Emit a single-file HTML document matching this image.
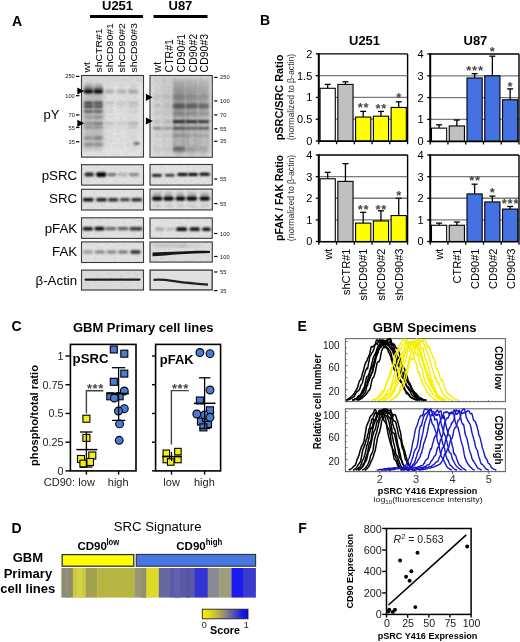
<!DOCTYPE html><html><head><meta charset="utf-8"><title>Figure</title><style>html,body{margin:0;padding:0;background:#fff;width:520px;height:642px;overflow:hidden}svg{display:block}text{font-family:"Liberation Sans",Arial,sans-serif}</style></head><body>
<svg width="520" height="642" viewBox="0 0 520 642">
<defs>
<filter id="b0" x="-50%" y="-200%" width="200%" height="500%"><feGaussianBlur stdDeviation="0.6"/></filter>
<filter id="b1" x="-50%" y="-200%" width="200%" height="500%"><feGaussianBlur stdDeviation="0.9"/></filter>
<filter id="b2" x="-50%" y="-200%" width="200%" height="500%"><feGaussianBlur stdDeviation="1.3"/></filter>
<filter id="b3" x="-50%" y="-200%" width="200%" height="500%"><feGaussianBlur stdDeviation="2.0"/></filter>
<filter id="grain" x="0" y="0" width="100%" height="100%"><feTurbulence type="fractalNoise" baseFrequency="0.3 0.45" numOctaves="2" seed="4"/><feColorMatrix type="matrix" values="0 0 0 0 0  0 0 0 0 0  0 0 0 0 0  1.2 0 0 0 -0.5"/><feGaussianBlur stdDeviation="0.4"/></filter>
<linearGradient id="sc" x1="0" x2="1" y1="0" y2="0"><stop offset="0" stop-color="#f6f200"/><stop offset="0.12" stop-color="#e8e212"/><stop offset="0.3" stop-color="#c6be3a"/><stop offset="0.45" stop-color="#9e9664"/><stop offset="0.56" stop-color="#7a7890"/><stop offset="0.72" stop-color="#4a4abc"/><stop offset="0.86" stop-color="#1c1ce4"/><stop offset="1" stop-color="#0808f2"/></linearGradient>
</defs>
<text x="12" y="25.6" font-size="14" font-weight="bold" text-anchor="start" fill="#000">A</text>
<text x="102" y="10" font-size="13" font-weight="bold" text-anchor="start" fill="#000">U251</text>
<text x="168.5" y="10" font-size="13" font-weight="bold" text-anchor="start" fill="#000">U87</text>
<rect x="90.00" y="15.00" width="53.00" height="3.00" fill="#000" stroke="none" stroke-width="1"/>
<rect x="153.50" y="15.00" width="54.00" height="3.00" fill="#000" stroke="none" stroke-width="1"/>
<text transform="translate(90.2 72.6) rotate(-90) scale(1 0.88)" font-size="10.5" fill="#000">wt</text>
<text transform="translate(101.6 72.6) rotate(-90) scale(1 0.88)" font-size="10.5" fill="#000">shCTR#1</text>
<text transform="translate(113.2 72.6) rotate(-90) scale(1 0.88)" font-size="10.5" fill="#000">shCD90#1</text>
<text transform="translate(125 72.6) rotate(-90) scale(1 0.88)" font-size="10.5" fill="#000">shCD90#2</text>
<text transform="translate(137 72.6) rotate(-90) scale(1 0.88)" font-size="10.5" fill="#000">shCD90#3</text>
<text transform="translate(160.9 72.4) rotate(-90) scale(1 0.97)" font-size="10.5" fill="#000">wt</text>
<text transform="translate(173.2 72.4) rotate(-90) scale(1 0.97)" font-size="10.5" fill="#000">CTR#1</text>
<text transform="translate(184.79999999999998 72.4) rotate(-90) scale(1 0.97)" font-size="10.5" fill="#000">CD90#1</text>
<text transform="translate(196.5 72.4) rotate(-90) scale(1 0.97)" font-size="10.5" fill="#000">CD90#2</text>
<text transform="translate(208.2 72.4) rotate(-90) scale(1 0.97)" font-size="10.5" fill="#000">CD90#3</text>
<clipPath id="c25"><rect x="81" y="75" width="63" height="82.6"/></clipPath>
<rect x="81.00" y="75.00" width="63.00" height="82.60" fill="#e4e4e4" stroke="none" stroke-width="1"/>
<g clip-path="url(#c25)">
<rect x="82.00" y="75.00" width="62.00" height="8.00" rx="4.00" fill="#000" opacity="0.06" filter="url(#b3)"/>
<rect x="83.15" y="85.00" width="10.50" height="66.00" rx="5.25" fill="#000" opacity="0.16" filter="url(#b3)"/>
<rect x="93.05" y="85.00" width="10.50" height="66.00" rx="5.25" fill="#000" opacity="0.17" filter="url(#b3)"/>
<rect x="104.50" y="85.00" width="10.00" height="66.00" rx="5.00" fill="#000" opacity="0.02" filter="url(#b3)"/>
<rect x="116.00" y="85.00" width="11.00" height="66.00" rx="5.50" fill="#000" opacity="0.02" filter="url(#b3)"/>
<rect x="127.50" y="85.00" width="11.00" height="66.00" rx="5.50" fill="#000" opacity="0.04" filter="url(#b3)"/>
<rect x="83.65" y="89.40" width="9.50" height="4.00" rx="2.00" fill="#000" opacity="0.95" filter="url(#b1)"/>
<rect x="93.55" y="89.40" width="9.50" height="4.00" rx="2.00" fill="#000" opacity="0.95" filter="url(#b1)"/>
<rect x="105.00" y="89.40" width="9.00" height="4.00" rx="2.00" fill="#000" opacity="0.20" filter="url(#b1)"/>
<rect x="116.50" y="89.40" width="10.00" height="4.00" rx="2.00" fill="#000" opacity="0.18" filter="url(#b1)"/>
<rect x="128.00" y="89.40" width="10.00" height="4.00" rx="2.00" fill="#000" opacity="0.24" filter="url(#b1)"/>
<rect x="83.65" y="87.00" width="9.50" height="3.00" rx="1.50" fill="#000" opacity="0.35" filter="url(#b2)"/>
<rect x="93.55" y="87.00" width="9.50" height="3.00" rx="1.50" fill="#000" opacity="0.35" filter="url(#b2)"/>
<rect x="83.65" y="101.40" width="9.50" height="3.20" rx="1.60" fill="#000" opacity="0.65" filter="url(#b1)"/>
<rect x="93.55" y="101.40" width="9.50" height="3.20" rx="1.60" fill="#000" opacity="0.60" filter="url(#b1)"/>
<rect x="105.00" y="101.40" width="9.00" height="3.20" rx="1.60" fill="#000" opacity="0.12" filter="url(#b1)"/>
<rect x="116.50" y="101.40" width="10.00" height="3.20" rx="1.60" fill="#000" opacity="0.10" filter="url(#b1)"/>
<rect x="128.00" y="101.40" width="10.00" height="3.20" rx="1.60" fill="#000" opacity="0.14" filter="url(#b1)"/>
<rect x="83.65" y="105.00" width="9.50" height="3.20" rx="1.60" fill="#000" opacity="0.62" filter="url(#b1)"/>
<rect x="93.55" y="105.00" width="9.50" height="3.20" rx="1.60" fill="#000" opacity="0.55" filter="url(#b1)"/>
<rect x="105.00" y="105.00" width="9.00" height="3.20" rx="1.60" fill="#000" opacity="0.04" filter="url(#b1)"/>
<rect x="116.50" y="105.00" width="10.00" height="3.20" rx="1.60" fill="#000" opacity="0.04" filter="url(#b1)"/>
<rect x="128.00" y="105.00" width="10.00" height="3.20" rx="1.60" fill="#000" opacity="0.08" filter="url(#b1)"/>
<rect x="83.65" y="110.10" width="9.50" height="2.80" rx="1.40" fill="#000" opacity="0.48" filter="url(#b1)"/>
<rect x="93.55" y="110.10" width="9.50" height="2.80" rx="1.40" fill="#000" opacity="0.45" filter="url(#b1)"/>
<rect x="105.00" y="110.10" width="9.00" height="2.80" rx="1.40" fill="#000" opacity="0.03" filter="url(#b1)"/>
<rect x="128.00" y="110.10" width="10.00" height="2.80" rx="1.40" fill="#000" opacity="0.04" filter="url(#b1)"/>
<rect x="83.65" y="115.50" width="9.50" height="3.00" rx="1.50" fill="#000" opacity="0.20" filter="url(#b2)"/>
<rect x="93.55" y="115.50" width="9.50" height="3.00" rx="1.50" fill="#000" opacity="0.25" filter="url(#b2)"/>
<rect x="83.65" y="122.60" width="9.50" height="1.80" rx="0.90" fill="#000" opacity="0.35" filter="url(#b1)"/>
<rect x="93.55" y="122.60" width="9.50" height="1.80" rx="0.90" fill="#000" opacity="0.48" filter="url(#b1)"/>
<rect x="105.00" y="122.60" width="9.00" height="1.80" rx="0.90" fill="#000" opacity="0.18" filter="url(#b1)"/>
<rect x="116.50" y="122.60" width="10.00" height="1.80" rx="0.90" fill="#000" opacity="0.12" filter="url(#b1)"/>
<rect x="128.00" y="122.60" width="10.00" height="1.80" rx="0.90" fill="#000" opacity="0.25" filter="url(#b1)"/>
<rect x="83.65" y="126.20" width="9.50" height="2.00" rx="1.00" fill="#000" opacity="0.28" filter="url(#b1)"/>
<rect x="93.55" y="126.20" width="9.50" height="2.00" rx="1.00" fill="#000" opacity="0.30" filter="url(#b1)"/>
<rect x="105.00" y="126.20" width="9.00" height="2.00" rx="1.00" fill="#000" opacity="0.05" filter="url(#b1)"/>
<rect x="116.50" y="126.20" width="10.00" height="2.00" rx="1.00" fill="#000" opacity="0.04" filter="url(#b1)"/>
<rect x="128.00" y="126.20" width="10.00" height="2.00" rx="1.00" fill="#000" opacity="0.10" filter="url(#b1)"/>
<rect x="83.65" y="136.30" width="9.50" height="3.40" rx="1.70" fill="#000" opacity="0.22" filter="url(#b2)"/>
<rect x="93.55" y="136.30" width="9.50" height="3.40" rx="1.70" fill="#000" opacity="0.30" filter="url(#b2)"/>
<rect x="128.00" y="136.30" width="10.00" height="3.40" rx="1.70" fill="#000" opacity="0.02" filter="url(#b2)"/>
<rect x="83.65" y="142.90" width="9.50" height="3.40" rx="1.70" fill="#000" opacity="0.24" filter="url(#b2)"/>
<rect x="93.55" y="142.90" width="9.50" height="3.40" rx="1.70" fill="#000" opacity="0.22" filter="url(#b2)"/>
<rect x="83.65" y="83.50" width="9.50" height="4.00" rx="2.00" fill="#000" opacity="0.18" filter="url(#b2)"/>
<rect x="93.55" y="83.50" width="9.50" height="4.00" rx="2.00" fill="#000" opacity="0.16" filter="url(#b2)"/>
<rect x="105.00" y="83.50" width="9.00" height="4.00" rx="2.00" fill="#000" opacity="0.02" filter="url(#b2)"/>
<rect x="116.50" y="83.50" width="10.00" height="4.00" rx="2.00" fill="#000" opacity="0.02" filter="url(#b2)"/>
<rect x="128.00" y="83.50" width="10.00" height="4.00" rx="2.00" fill="#000" opacity="0.03" filter="url(#b2)"/>
<rect x="133.60" y="142.10" width="6.00" height="3.00" rx="1.50" fill="#000" opacity="0.50" filter="url(#b1)"/>
<rect x="81" y="75" width="63" height="82.6" filter="url(#grain)" opacity="0.1"/>
</g>
<rect x="81.50" y="75.50" width="62.00" height="81.60" fill="none" stroke="#3a3a3a" stroke-width="1.1"/>
<clipPath id="c81"><rect x="149.5" y="75" width="63.30000000000001" height="82.80000000000001"/></clipPath>
<rect x="149.50" y="75.00" width="63.30" height="82.80" fill="#e0e0e0" stroke="none" stroke-width="1"/>
<g clip-path="url(#c81)">
<rect x="150.00" y="75.00" width="62.00" height="8.00" rx="4.00" fill="#000" opacity="0.05" filter="url(#b3)"/>
<rect x="153.00" y="79.00" width="9.00" height="78.00" rx="4.50" fill="#000" opacity="0.05" filter="url(#b3)"/>
<rect x="154.50" y="85.00" width="6.00" height="30.00" rx="3.00" fill="#000" opacity="0.02" filter="url(#b3)"/>
<rect x="163.50" y="79.00" width="8.00" height="78.00" rx="4.00" fill="#000" opacity="0.07" filter="url(#b3)"/>
<rect x="165.00" y="85.00" width="5.00" height="30.00" rx="2.50" fill="#000" opacity="0.04" filter="url(#b3)"/>
<rect x="172.75" y="79.00" width="12.50" height="78.00" rx="6.25" fill="#000" opacity="0.20" filter="url(#b3)"/>
<rect x="174.25" y="85.00" width="9.50" height="30.00" rx="4.75" fill="#000" opacity="0.16" filter="url(#b3)"/>
<rect x="185.50" y="79.00" width="12.00" height="78.00" rx="6.00" fill="#000" opacity="0.17" filter="url(#b3)"/>
<rect x="187.00" y="85.00" width="9.00" height="30.00" rx="4.50" fill="#000" opacity="0.14" filter="url(#b3)"/>
<rect x="197.75" y="79.00" width="11.50" height="78.00" rx="5.75" fill="#000" opacity="0.15" filter="url(#b3)"/>
<rect x="199.25" y="85.00" width="8.50" height="30.00" rx="4.25" fill="#000" opacity="0.12" filter="url(#b3)"/>
<rect x="153.00" y="94.50" width="9.00" height="5.00" rx="2.50" fill="#000" opacity="0.06" filter="url(#b2)"/>
<rect x="163.50" y="94.50" width="8.00" height="5.00" rx="2.50" fill="#000" opacity="0.06" filter="url(#b2)"/>
<rect x="172.75" y="94.50" width="12.50" height="5.00" rx="2.50" fill="#000" opacity="0.15" filter="url(#b2)"/>
<rect x="185.50" y="94.50" width="12.00" height="5.00" rx="2.50" fill="#000" opacity="0.12" filter="url(#b2)"/>
<rect x="197.75" y="94.50" width="11.50" height="5.00" rx="2.50" fill="#000" opacity="0.10" filter="url(#b2)"/>
<rect x="153.00" y="103.50" width="9.00" height="5.00" rx="2.50" fill="#000" opacity="0.05" filter="url(#b2)"/>
<rect x="163.50" y="103.50" width="8.00" height="5.00" rx="2.50" fill="#000" opacity="0.05" filter="url(#b2)"/>
<rect x="172.75" y="103.50" width="12.50" height="5.00" rx="2.50" fill="#000" opacity="0.42" filter="url(#b2)"/>
<rect x="185.50" y="103.50" width="12.00" height="5.00" rx="2.50" fill="#000" opacity="0.40" filter="url(#b2)"/>
<rect x="197.75" y="103.50" width="11.50" height="5.00" rx="2.50" fill="#000" opacity="0.36" filter="url(#b2)"/>
<rect x="153.00" y="112.00" width="9.00" height="4.00" rx="2.00" fill="#000" opacity="0.03" filter="url(#b2)"/>
<rect x="163.50" y="112.00" width="8.00" height="4.00" rx="2.00" fill="#000" opacity="0.03" filter="url(#b2)"/>
<rect x="172.75" y="112.00" width="12.50" height="4.00" rx="2.00" fill="#000" opacity="0.18" filter="url(#b2)"/>
<rect x="185.50" y="112.00" width="12.00" height="4.00" rx="2.00" fill="#000" opacity="0.16" filter="url(#b2)"/>
<rect x="197.75" y="112.00" width="11.50" height="4.00" rx="2.00" fill="#000" opacity="0.12" filter="url(#b2)"/>
<rect x="153.00" y="120.20" width="9.00" height="2.80" rx="1.40" fill="#000" opacity="0.10" filter="url(#b1)"/>
<rect x="163.50" y="120.20" width="8.00" height="2.80" rx="1.40" fill="#000" opacity="0.14" filter="url(#b1)"/>
<rect x="172.75" y="120.20" width="12.50" height="2.80" rx="1.40" fill="#000" opacity="0.85" filter="url(#b1)"/>
<rect x="185.50" y="120.20" width="12.00" height="2.80" rx="1.40" fill="#000" opacity="0.82" filter="url(#b1)"/>
<rect x="197.75" y="120.20" width="11.50" height="2.80" rx="1.40" fill="#000" opacity="0.76" filter="url(#b1)"/>
<rect x="153.00" y="127.00" width="9.00" height="2.60" rx="1.30" fill="#000" opacity="0.36" filter="url(#b1)"/>
<rect x="163.50" y="127.00" width="8.00" height="2.60" rx="1.30" fill="#000" opacity="0.30" filter="url(#b1)"/>
<rect x="172.75" y="127.00" width="12.50" height="2.60" rx="1.30" fill="#000" opacity="0.60" filter="url(#b1)"/>
<rect x="185.50" y="127.00" width="12.00" height="2.60" rx="1.30" fill="#000" opacity="0.50" filter="url(#b1)"/>
<rect x="197.75" y="127.00" width="11.50" height="2.60" rx="1.30" fill="#000" opacity="0.55" filter="url(#b1)"/>
<rect x="153.00" y="134.60" width="9.00" height="2.00" rx="1.00" fill="#000" opacity="0.08" filter="url(#b1)"/>
<rect x="163.50" y="134.60" width="8.00" height="2.00" rx="1.00" fill="#000" opacity="0.08" filter="url(#b1)"/>
<rect x="172.75" y="134.60" width="12.50" height="2.00" rx="1.00" fill="#000" opacity="0.28" filter="url(#b1)"/>
<rect x="185.50" y="134.60" width="12.00" height="2.00" rx="1.00" fill="#000" opacity="0.16" filter="url(#b1)"/>
<rect x="197.75" y="134.60" width="11.50" height="2.00" rx="1.00" fill="#000" opacity="0.16" filter="url(#b1)"/>
<rect x="153.00" y="146.50" width="9.00" height="5.00" rx="2.50" fill="#000" opacity="0.04" filter="url(#b1)"/>
<rect x="163.50" y="146.50" width="8.00" height="5.00" rx="2.50" fill="#000" opacity="0.04" filter="url(#b1)"/>
<rect x="172.75" y="146.50" width="12.50" height="5.00" rx="2.50" fill="#000" opacity="0.40" filter="url(#b1)"/>
<rect x="185.50" y="146.50" width="12.00" height="5.00" rx="2.50" fill="#000" opacity="0.14" filter="url(#b1)"/>
<rect x="197.75" y="146.50" width="11.50" height="5.00" rx="2.50" fill="#000" opacity="0.10" filter="url(#b1)"/>
<rect x="173.40" y="77.00" width="2.20" height="70.00" rx="1.10" fill="#000" opacity="0.12" filter="url(#b1)"/>
<rect x="182.40" y="77.00" width="2.20" height="70.00" rx="1.10" fill="#000" opacity="0.10" filter="url(#b1)"/>
<rect x="186.40" y="77.00" width="2.20" height="70.00" rx="1.10" fill="#000" opacity="0.10" filter="url(#b1)"/>
<rect x="194.90" y="77.00" width="2.20" height="70.00" rx="1.10" fill="#000" opacity="0.09" filter="url(#b1)"/>
<rect x="198.90" y="77.00" width="2.20" height="70.00" rx="1.10" fill="#000" opacity="0.08" filter="url(#b1)"/>
<rect x="206.90" y="77.00" width="2.20" height="70.00" rx="1.10" fill="#000" opacity="0.07" filter="url(#b1)"/>
<rect x="162.40" y="77.00" width="2.20" height="70.00" rx="1.10" fill="#000" opacity="0.06" filter="url(#b1)"/>
<rect x="149.5" y="75" width="63.30000000000001" height="82.80000000000001" filter="url(#grain)" opacity="0.1"/>
</g>
<rect x="150.00" y="75.50" width="62.30" height="81.80" fill="none" stroke="#3a3a3a" stroke-width="1.1"/>
<clipPath id="c140"><rect x="81" y="164.2" width="63" height="21.400000000000006"/></clipPath>
<rect x="81.00" y="164.20" width="63.00" height="21.40" fill="#e2e2e2" stroke="none" stroke-width="1"/>
<g clip-path="url(#c140)">
<rect x="84.45" y="172.60" width="9.50" height="4.00" rx="2.00" fill="#000" opacity="0.84" filter="url(#b1)"/>
<rect x="95.95" y="172.30" width="10.50" height="4.60" rx="2.30" fill="#000" opacity="1.00" filter="url(#b1)"/>
<rect x="107.30" y="172.90" width="9.00" height="3.40" rx="1.70" fill="#000" opacity="0.49" filter="url(#b1)"/>
<rect x="117.50" y="173.00" width="10.00" height="3.20" rx="1.60" fill="#000" opacity="0.22" filter="url(#b1)"/>
<rect x="129.00" y="172.90" width="10.00" height="3.40" rx="1.70" fill="#000" opacity="0.41" filter="url(#b1)"/>
<rect x="81" y="164.2" width="63" height="21.400000000000006" filter="url(#grain)" opacity="0.1"/>
</g>
<rect x="81.50" y="164.70" width="62.00" height="20.40" fill="none" stroke="#3a3a3a" stroke-width="1.1"/>
<clipPath id="c151"><rect x="149.5" y="164" width="63.30000000000001" height="21.599999999999994"/></clipPath>
<rect x="149.50" y="164.00" width="63.30" height="21.60" fill="#e2e2e2" stroke="none" stroke-width="1"/>
<g clip-path="url(#c151)">
<rect x="151.80" y="174.10" width="10.00" height="2.60" rx="1.30" fill="#000" opacity="0.92" filter="url(#b1)"/>
<rect x="165.15" y="174.00" width="9.50" height="2.60" rx="1.30" fill="#000" opacity="0.86" filter="url(#b1)"/>
<rect x="177.25" y="173.10" width="10.50" height="3.00" rx="1.50" fill="#000" opacity="1.00" filter="url(#b1)"/>
<rect x="188.00" y="172.90" width="10.00" height="3.00" rx="1.50" fill="#000" opacity="1.00" filter="url(#b1)"/>
<rect x="199.45" y="172.70" width="10.50" height="3.00" rx="1.50" fill="#000" opacity="1.00" filter="url(#b1)"/>
<rect x="149.5" y="164" width="63.30000000000001" height="21.599999999999994" filter="url(#grain)" opacity="0.1"/>
</g>
<rect x="150.00" y="164.50" width="62.30" height="20.60" fill="none" stroke="#3a3a3a" stroke-width="1.1"/>
<clipPath id="c162"><rect x="81" y="188.8" width="63" height="21.69999999999999"/></clipPath>
<rect x="81.00" y="188.80" width="63.00" height="21.70" fill="#e2e2e2" stroke="none" stroke-width="1"/>
<g clip-path="url(#c162)">
<rect x="82.70" y="197.90" width="11.00" height="3.60" rx="1.80" fill="#000" opacity="0.95" filter="url(#b1)"/>
<rect x="96.00" y="197.90" width="11.00" height="3.60" rx="1.80" fill="#000" opacity="0.89" filter="url(#b1)"/>
<rect x="107.95" y="198.00" width="10.50" height="3.40" rx="1.70" fill="#000" opacity="0.81" filter="url(#b1)"/>
<rect x="120.00" y="198.10" width="10.00" height="3.20" rx="1.60" fill="#000" opacity="0.73" filter="url(#b1)"/>
<rect x="131.20" y="198.00" width="11.00" height="3.40" rx="1.70" fill="#000" opacity="0.81" filter="url(#b1)"/>
<rect x="81" y="188.8" width="63" height="21.69999999999999" filter="url(#grain)" opacity="0.1"/>
</g>
<rect x="81.50" y="189.30" width="62.00" height="20.70" fill="none" stroke="#3a3a3a" stroke-width="1.1"/>
<clipPath id="c173"><rect x="149.5" y="188.6" width="63.30000000000001" height="21.80000000000001"/></clipPath>
<rect x="149.50" y="188.60" width="63.30" height="21.80" fill="#e0e0e0" stroke="none" stroke-width="1"/>
<g clip-path="url(#c173)">
<rect x="151.95" y="196.50" width="10.50" height="4.20" rx="2.10" fill="#000" opacity="0.98" filter="url(#b1)"/>
<rect x="163.35" y="196.50" width="10.50" height="4.20" rx="2.10" fill="#000" opacity="0.98" filter="url(#b1)"/>
<rect x="175.40" y="196.50" width="10.00" height="4.20" rx="2.10" fill="#000" opacity="0.98" filter="url(#b1)"/>
<rect x="186.30" y="196.50" width="11.00" height="4.20" rx="2.10" fill="#000" opacity="0.98" filter="url(#b1)"/>
<rect x="199.45" y="196.50" width="10.50" height="4.20" rx="2.10" fill="#000" opacity="0.98" filter="url(#b1)"/>
<rect x="152.70" y="192.00" width="9.00" height="5.00" rx="2.50" fill="#000" opacity="0.20" filter="url(#b2)"/>
<rect x="164.60" y="192.00" width="8.00" height="5.00" rx="2.50" fill="#000" opacity="0.20" filter="url(#b2)"/>
<rect x="176.40" y="192.00" width="8.00" height="5.00" rx="2.50" fill="#000" opacity="0.20" filter="url(#b2)"/>
<rect x="187.30" y="192.00" width="9.00" height="5.00" rx="2.50" fill="#000" opacity="0.20" filter="url(#b2)"/>
<rect x="200.20" y="192.00" width="9.00" height="5.00" rx="2.50" fill="#000" opacity="0.20" filter="url(#b2)"/>
<rect x="152.70" y="204.00" width="9.00" height="4.00" rx="2.00" fill="#000" opacity="0.08" filter="url(#b2)"/>
<rect x="164.60" y="204.00" width="8.00" height="4.00" rx="2.00" fill="#000" opacity="0.08" filter="url(#b2)"/>
<rect x="176.40" y="204.00" width="8.00" height="4.00" rx="2.00" fill="#000" opacity="0.08" filter="url(#b2)"/>
<rect x="187.30" y="204.00" width="9.00" height="4.00" rx="2.00" fill="#000" opacity="0.08" filter="url(#b2)"/>
<rect x="200.20" y="204.00" width="9.00" height="4.00" rx="2.00" fill="#000" opacity="0.08" filter="url(#b2)"/>
<rect x="149.5" y="188.6" width="63.30000000000001" height="21.80000000000001" filter="url(#grain)" opacity="0.1"/>
</g>
<rect x="150.00" y="189.10" width="62.30" height="20.80" fill="none" stroke="#3a3a3a" stroke-width="1.1"/>
<clipPath id="c194"><rect x="81" y="217.3" width="63" height="21.599999999999994"/></clipPath>
<rect x="81.00" y="217.30" width="63.00" height="21.60" fill="#e2e2e2" stroke="none" stroke-width="1"/>
<g clip-path="url(#c194)">
<rect x="82.55" y="226.90" width="10.50" height="3.60" rx="1.80" fill="#000" opacity="0.95" filter="url(#b1)"/>
<rect x="94.50" y="226.80" width="10.00" height="3.80" rx="1.90" fill="#000" opacity="0.97" filter="url(#b1)"/>
<rect x="105.20" y="227.10" width="11.00" height="3.20" rx="1.60" fill="#000" opacity="0.54" filter="url(#b1)"/>
<rect x="117.50" y="227.10" width="11.00" height="3.20" rx="1.60" fill="#000" opacity="0.59" filter="url(#b1)"/>
<rect x="129.50" y="227.00" width="13.00" height="3.40" rx="1.70" fill="#000" opacity="0.78" filter="url(#b1)"/>
<rect x="81" y="217.3" width="63" height="21.599999999999994" filter="url(#grain)" opacity="0.1"/>
</g>
<rect x="81.50" y="217.80" width="62.00" height="20.60" fill="none" stroke="#3a3a3a" stroke-width="1.1"/>
<clipPath id="c205"><rect x="149.5" y="217.5" width="63.30000000000001" height="21.30000000000001"/></clipPath>
<rect x="149.50" y="217.50" width="63.30" height="21.30" fill="#e2e2e2" stroke="none" stroke-width="1"/>
<g clip-path="url(#c205)">
<rect x="155.20" y="227.60" width="9.00" height="3.20" rx="1.60" fill="#000" opacity="0.27" filter="url(#b1)"/>
<rect x="165.95" y="227.80" width="8.50" height="2.80" rx="1.40" fill="#000" opacity="0.19" filter="url(#b1)"/>
<rect x="176.10" y="227.30" width="11.00" height="3.80" rx="1.90" fill="#000" opacity="0.97" filter="url(#b1)"/>
<rect x="189.45" y="227.30" width="10.50" height="3.80" rx="1.90" fill="#000" opacity="0.92" filter="url(#b1)"/>
<rect x="202.10" y="227.40" width="8.60" height="3.60" rx="1.80" fill="#000" opacity="0.97" filter="url(#b1)"/>
<rect x="149.5" y="217.5" width="63.30000000000001" height="21.30000000000001" filter="url(#grain)" opacity="0.1"/>
</g>
<rect x="150.00" y="218.00" width="62.30" height="20.30" fill="none" stroke="#3a3a3a" stroke-width="1.1"/>
<clipPath id="c216"><rect x="81" y="241.4" width="63" height="21.599999999999994"/></clipPath>
<rect x="81.00" y="241.40" width="63.00" height="21.60" fill="#e2e2e2" stroke="none" stroke-width="1"/>
<g clip-path="url(#c216)">
<rect x="83.00" y="250.40" width="10.00" height="3.20" rx="1.60" fill="#000" opacity="0.32" filter="url(#b1)"/>
<rect x="95.00" y="250.40" width="10.00" height="3.20" rx="1.60" fill="#000" opacity="0.41" filter="url(#b1)"/>
<rect x="106.50" y="250.40" width="10.00" height="3.20" rx="1.60" fill="#000" opacity="0.41" filter="url(#b1)"/>
<rect x="118.00" y="250.40" width="10.00" height="3.20" rx="1.60" fill="#000" opacity="0.49" filter="url(#b1)"/>
<rect x="130.25" y="250.20" width="10.50" height="3.60" rx="1.80" fill="#000" opacity="0.81" filter="url(#b1)"/>
<rect x="81" y="241.4" width="63" height="21.599999999999994" filter="url(#grain)" opacity="0.1"/>
</g>
<rect x="81.50" y="241.90" width="62.00" height="20.60" fill="none" stroke="#3a3a3a" stroke-width="1.1"/>
<clipPath id="c227"><rect x="149.5" y="241.5" width="63.30000000000001" height="21.100000000000023"/></clipPath>
<rect x="149.50" y="241.50" width="63.30" height="21.10" fill="#dedede" stroke="none" stroke-width="1"/>
<g clip-path="url(#c227)">
<rect x="153.00" y="243.50" width="34.00" height="4.00" rx="2.00" fill="#000" opacity="0.10" filter="url(#b2)"/>
<rect x="182.00" y="244.50" width="20.00" height="3.00" rx="1.50" fill="#000" opacity="0.06" filter="url(#b2)"/>
<rect x="149.5" y="241.5" width="63.30000000000001" height="21.100000000000023" filter="url(#grain)" opacity="0.1"/>
</g>
<rect x="150.00" y="242.00" width="62.30" height="20.10" fill="none" stroke="#3a3a3a" stroke-width="1.1"/>
<path d="M152.5,252.6 C160,252.2 170,251.6 180,251.4 S198,250.6 210,250.9 L210,253.1 C200,253.3 190,253.6 180,254.2 S160,256.2 152.5,256.2 Z" fill="#000" fill-opacity="0.9" filter="url(#b0)" clip-path="url(#cfr)"/>
<clipPath id="cfr"><rect x="150" y="242" width="62" height="20"/></clipPath>
<clipPath id="c237"><rect x="81" y="269.6" width="63" height="20.899999999999977"/></clipPath>
<rect x="81.00" y="269.60" width="63.00" height="20.90" fill="#dcdcdc" stroke="none" stroke-width="1"/>
<g clip-path="url(#c237)">
<rect x="84.50" y="278.40" width="56.00" height="2.40" rx="1.20" fill="#000" opacity="0.85" filter="url(#b0)"/>
<rect x="81" y="269.6" width="63" height="20.899999999999977" filter="url(#grain)" opacity="0.1"/>
</g>
<rect x="81.50" y="270.10" width="62.00" height="19.90" fill="none" stroke="#3a3a3a" stroke-width="1.1"/>
<clipPath id="ca2"><rect x="149.5" y="269.5" width="63.3" height="21"/></clipPath>
<rect x="149.50" y="269.50" width="63.30" height="21.00" fill="#e0e0e0" stroke="none" stroke-width="1"/>
<path d="M153.5,279.8 C160,279.3 166,279.8 172,280.8 S192,283.2 208,284.6" stroke="#000" stroke-opacity="0.85" stroke-width="2.2" fill="none" filter="url(#b0)" clip-path="url(#ca2)"/>
<rect x="150.10" y="270.10" width="62.10" height="19.80" fill="none" stroke="#3a3a3a" stroke-width="1.3"/>
<text x="43.5" y="119.2" font-size="13" text-anchor="start" fill="#000">pY</text>
<text x="77.2" y="180" font-size="13.3" text-anchor="end" fill="#000">pSRC</text>
<text x="77.2" y="203.2" font-size="13.3" text-anchor="end" fill="#000">SRC</text>
<text x="77.2" y="233.4" font-size="13.3" text-anchor="end" fill="#000">pFAK</text>
<text x="77.2" y="255.8" font-size="13.3" text-anchor="end" fill="#000">FAK</text>
<text x="77.2" y="284.5" font-size="13.3" text-anchor="end" fill="#000">β-Actin</text>
<line x1="76.00" y1="76.40" x2="79.40" y2="76.40" stroke="#000" stroke-width="1.2"/>
<text x="74.8" y="78.4" font-size="5.7" text-anchor="end" fill="#111">250</text>
<line x1="76.00" y1="95.70" x2="79.40" y2="95.70" stroke="#000" stroke-width="1.2"/>
<text x="74.8" y="97.7" font-size="5.7" text-anchor="end" fill="#111">100</text>
<line x1="76.00" y1="114.90" x2="79.40" y2="114.90" stroke="#000" stroke-width="1.2"/>
<text x="74.8" y="116.9" font-size="5.7" text-anchor="end" fill="#111">70</text>
<line x1="76.00" y1="127.50" x2="79.40" y2="127.50" stroke="#000" stroke-width="1.2"/>
<text x="74.8" y="129.5" font-size="5.7" text-anchor="end" fill="#111">55</text>
<line x1="76.00" y1="141.80" x2="79.40" y2="141.80" stroke="#000" stroke-width="1.2"/>
<text x="74.8" y="143.8" font-size="5.7" text-anchor="end" fill="#111">35</text>
<line x1="214.20" y1="77.40" x2="217.40" y2="77.40" stroke="#000" stroke-width="1.2"/>
<text x="220.1" y="79.4" font-size="5.7" text-anchor="start" fill="#111">250</text>
<line x1="214.20" y1="100.90" x2="217.40" y2="100.90" stroke="#000" stroke-width="1.2"/>
<text x="220.1" y="102.9" font-size="5.7" text-anchor="start" fill="#111">100</text>
<line x1="214.20" y1="114.90" x2="217.40" y2="114.90" stroke="#000" stroke-width="1.2"/>
<text x="220.1" y="116.9" font-size="5.7" text-anchor="start" fill="#111">70</text>
<line x1="214.20" y1="128.80" x2="217.40" y2="128.80" stroke="#000" stroke-width="1.2"/>
<text x="220.1" y="130.8" font-size="5.7" text-anchor="start" fill="#111">55</text>
<line x1="214.20" y1="141.30" x2="217.40" y2="141.30" stroke="#000" stroke-width="1.2"/>
<text x="220.1" y="143.3" font-size="5.7" text-anchor="start" fill="#111">35</text>
<line x1="214.20" y1="179.00" x2="217.40" y2="179.00" stroke="#000" stroke-width="1.2"/>
<text x="220.1" y="181.0" font-size="5.7" text-anchor="start" fill="#111">55</text>
<line x1="214.20" y1="203.60" x2="217.40" y2="203.60" stroke="#000" stroke-width="1.2"/>
<text x="220.1" y="205.6" font-size="5.7" text-anchor="start" fill="#111">55</text>
<line x1="214.20" y1="233.50" x2="217.40" y2="233.50" stroke="#000" stroke-width="1.2"/>
<text x="220.1" y="235.5" font-size="5.7" text-anchor="start" fill="#111">100</text>
<line x1="214.20" y1="256.50" x2="217.40" y2="256.50" stroke="#000" stroke-width="1.2"/>
<text x="220.1" y="258.5" font-size="5.7" text-anchor="start" fill="#111">100</text>
<line x1="214.20" y1="272.00" x2="217.40" y2="272.00" stroke="#000" stroke-width="1.2"/>
<text x="220.1" y="274.0" font-size="5.7" text-anchor="start" fill="#111">55</text>
<line x1="214.20" y1="290.60" x2="217.40" y2="290.60" stroke="#000" stroke-width="1.2"/>
<text x="220.1" y="292.6" font-size="5.7" text-anchor="start" fill="#111">35</text>
<path d="M77.3,87.4 L84.1,91 L77.3,94.6 Z" fill="#000"/>
<path d="M77.3,119.7 L84.1,123.3 L77.3,126.89999999999999 Z" fill="#000"/>
<path d="M145.9,93.7 L152.70000000000002,97.3 L145.9,100.89999999999999 Z" fill="#000"/>
<path d="M145.9,117.4 L152.70000000000002,121 L145.9,124.6 Z" fill="#000"/>
<text x="260" y="24.8" font-size="14" font-weight="bold" text-anchor="start" fill="#000">B</text>
<text x="349" y="45.2" font-size="13" font-weight="bold" text-anchor="start" fill="#000">U251</text>
<text x="463.5" y="45.2" font-size="13" font-weight="bold" text-anchor="start" fill="#000">U87</text>
<line x1="318.80" y1="119.22" x2="407.60" y2="119.22" stroke="#7a7a7a" stroke-width="1.3"/>
<line x1="318.80" y1="97.45" x2="407.60" y2="97.45" stroke="#7a7a7a" stroke-width="1.3"/>
<line x1="318.80" y1="75.68" x2="407.60" y2="75.68" stroke="#7a7a7a" stroke-width="1.3"/>
<rect x="320.08" y="88.30" width="15.20" height="52.70" fill="#ffffff" stroke="#000" stroke-width="1.1"/>
<line x1="327.68" y1="88.30" x2="327.68" y2="84.39" stroke="#000" stroke-width="1.3"/>
<line x1="324.68" y1="84.39" x2="330.68" y2="84.39" stroke="#000" stroke-width="1.3"/>
<rect x="337.84" y="84.39" width="15.20" height="56.61" fill="#c0c0c0" stroke="#000" stroke-width="1.1"/>
<line x1="345.44" y1="84.39" x2="345.44" y2="81.77" stroke="#000" stroke-width="1.3"/>
<line x1="342.44" y1="81.77" x2="348.44" y2="81.77" stroke="#000" stroke-width="1.3"/>
<rect x="355.60" y="117.05" width="15.20" height="23.95" fill="#ffff00" stroke="#000" stroke-width="1.1"/>
<line x1="363.20" y1="117.05" x2="363.20" y2="111.39" stroke="#000" stroke-width="1.3"/>
<line x1="360.20" y1="111.39" x2="366.20" y2="111.39" stroke="#000" stroke-width="1.3"/>
<rect x="373.36" y="116.18" width="15.20" height="24.82" fill="#ffff00" stroke="#000" stroke-width="1.1"/>
<line x1="380.96" y1="116.18" x2="380.96" y2="111.39" stroke="#000" stroke-width="1.3"/>
<line x1="377.96" y1="111.39" x2="383.96" y2="111.39" stroke="#000" stroke-width="1.3"/>
<rect x="391.12" y="107.47" width="15.20" height="33.53" fill="#ffff00" stroke="#000" stroke-width="1.1"/>
<line x1="398.72" y1="107.47" x2="398.72" y2="101.81" stroke="#000" stroke-width="1.3"/>
<line x1="395.72" y1="101.81" x2="401.72" y2="101.81" stroke="#000" stroke-width="1.3"/>
<line x1="318.80" y1="53.90" x2="407.60" y2="53.90" stroke="#000" stroke-width="1.4"/>
<line x1="407.60" y1="53.90" x2="407.60" y2="141.00" stroke="#000" stroke-width="1.4"/>
<line x1="318.80" y1="53.20" x2="318.80" y2="142.00" stroke="#000" stroke-width="2"/>
<line x1="318.80" y1="141.30" x2="407.60" y2="141.30" stroke="#000" stroke-width="1.6"/>
<line x1="318.80" y1="141.00" x2="318.80" y2="144.20" stroke="#000" stroke-width="1.3"/>
<line x1="336.56" y1="141.00" x2="336.56" y2="144.20" stroke="#000" stroke-width="1.3"/>
<line x1="354.32" y1="141.00" x2="354.32" y2="144.20" stroke="#000" stroke-width="1.3"/>
<line x1="372.08" y1="141.00" x2="372.08" y2="144.20" stroke="#000" stroke-width="1.3"/>
<line x1="389.84" y1="141.00" x2="389.84" y2="144.20" stroke="#000" stroke-width="1.3"/>
<line x1="407.60" y1="141.00" x2="407.60" y2="144.20" stroke="#000" stroke-width="1.3"/>
<line x1="315.80" y1="141.00" x2="318.80" y2="141.00" stroke="#000" stroke-width="1.3"/>
<text x="312.3" y="144.9" font-size="11" text-anchor="end" fill="#000">0</text>
<line x1="315.80" y1="119.22" x2="318.80" y2="119.22" stroke="#000" stroke-width="1.3"/>
<text x="312.3" y="123.125" font-size="11" text-anchor="end" fill="#000">0.5</text>
<line x1="315.80" y1="97.45" x2="318.80" y2="97.45" stroke="#000" stroke-width="1.3"/>
<text x="312.3" y="101.35000000000001" font-size="11" text-anchor="end" fill="#000">1</text>
<line x1="315.80" y1="75.68" x2="318.80" y2="75.68" stroke="#000" stroke-width="1.3"/>
<text x="312.3" y="79.57500000000002" font-size="11" text-anchor="end" fill="#000">1.5</text>
<line x1="315.80" y1="53.90" x2="318.80" y2="53.90" stroke="#000" stroke-width="1.3"/>
<text x="312.3" y="57.800000000000004" font-size="11" text-anchor="end" fill="#000">2</text>
<text x="363.6" y="111.8" font-size="13" font-weight="bold" text-anchor="middle" fill="#454545" letter-spacing="0.8">**</text>
<text x="381.36" y="113.39999999999999" font-size="13" font-weight="bold" text-anchor="middle" fill="#454545" letter-spacing="0.8">**</text>
<text x="399.12" y="102.0" font-size="13" font-weight="bold" text-anchor="middle" fill="#454545" letter-spacing="0.8">*</text>
<line x1="430.20" y1="119.40" x2="519.00" y2="119.40" stroke="#7a7a7a" stroke-width="1.3"/>
<line x1="430.20" y1="97.60" x2="519.00" y2="97.60" stroke="#7a7a7a" stroke-width="1.3"/>
<line x1="430.20" y1="75.80" x2="519.00" y2="75.80" stroke="#7a7a7a" stroke-width="1.3"/>
<rect x="431.48" y="128.12" width="15.20" height="13.08" fill="#ffffff" stroke="#000" stroke-width="1.1"/>
<line x1="439.08" y1="128.12" x2="439.08" y2="124.85" stroke="#000" stroke-width="1.3"/>
<line x1="436.08" y1="124.85" x2="442.08" y2="124.85" stroke="#000" stroke-width="1.3"/>
<rect x="449.24" y="125.94" width="15.20" height="15.26" fill="#c0c0c0" stroke="#000" stroke-width="1.1"/>
<line x1="456.84" y1="125.94" x2="456.84" y2="120.05" stroke="#000" stroke-width="1.3"/>
<line x1="453.84" y1="120.05" x2="459.84" y2="120.05" stroke="#000" stroke-width="1.3"/>
<rect x="467.00" y="77.98" width="15.20" height="63.22" fill="#4472e0" stroke="#000" stroke-width="1.1"/>
<line x1="474.60" y1="77.98" x2="474.60" y2="73.62" stroke="#000" stroke-width="1.3"/>
<line x1="471.60" y1="73.62" x2="477.60" y2="73.62" stroke="#000" stroke-width="1.3"/>
<rect x="484.76" y="75.80" width="15.20" height="65.40" fill="#4472e0" stroke="#000" stroke-width="1.1"/>
<line x1="492.36" y1="75.80" x2="492.36" y2="56.18" stroke="#000" stroke-width="1.3"/>
<line x1="489.36" y1="56.18" x2="495.36" y2="56.18" stroke="#000" stroke-width="1.3"/>
<rect x="502.52" y="99.78" width="15.20" height="41.42" fill="#4472e0" stroke="#000" stroke-width="1.1"/>
<line x1="510.12" y1="99.78" x2="510.12" y2="88.88" stroke="#000" stroke-width="1.3"/>
<line x1="507.12" y1="88.88" x2="513.12" y2="88.88" stroke="#000" stroke-width="1.3"/>
<line x1="430.20" y1="54.00" x2="519.00" y2="54.00" stroke="#000" stroke-width="1.4"/>
<line x1="519.00" y1="54.00" x2="519.00" y2="141.20" stroke="#000" stroke-width="1.4"/>
<line x1="430.20" y1="53.30" x2="430.20" y2="142.20" stroke="#000" stroke-width="2"/>
<line x1="430.20" y1="141.50" x2="519.00" y2="141.50" stroke="#000" stroke-width="1.6"/>
<line x1="430.20" y1="141.20" x2="430.20" y2="144.40" stroke="#000" stroke-width="1.3"/>
<line x1="447.96" y1="141.20" x2="447.96" y2="144.40" stroke="#000" stroke-width="1.3"/>
<line x1="465.72" y1="141.20" x2="465.72" y2="144.40" stroke="#000" stroke-width="1.3"/>
<line x1="483.48" y1="141.20" x2="483.48" y2="144.40" stroke="#000" stroke-width="1.3"/>
<line x1="501.24" y1="141.20" x2="501.24" y2="144.40" stroke="#000" stroke-width="1.3"/>
<line x1="519.00" y1="141.20" x2="519.00" y2="144.40" stroke="#000" stroke-width="1.3"/>
<line x1="427.20" y1="141.20" x2="430.20" y2="141.20" stroke="#000" stroke-width="1.3"/>
<text x="423.7" y="145.1" font-size="11" text-anchor="end" fill="#000">0</text>
<line x1="427.20" y1="119.40" x2="430.20" y2="119.40" stroke="#000" stroke-width="1.3"/>
<text x="423.7" y="123.3" font-size="11" text-anchor="end" fill="#000">1</text>
<line x1="427.20" y1="97.60" x2="430.20" y2="97.60" stroke="#000" stroke-width="1.3"/>
<text x="423.7" y="101.5" font-size="11" text-anchor="end" fill="#000">2</text>
<line x1="427.20" y1="75.80" x2="430.20" y2="75.80" stroke="#000" stroke-width="1.3"/>
<text x="423.7" y="79.7" font-size="11" text-anchor="end" fill="#000">3</text>
<line x1="427.20" y1="54.00" x2="430.20" y2="54.00" stroke="#000" stroke-width="1.3"/>
<text x="423.7" y="57.9" font-size="11" text-anchor="end" fill="#000">4</text>
<text x="475.0" y="75.0" font-size="13" font-weight="bold" text-anchor="middle" fill="#454545" letter-spacing="0.8">***</text>
<text x="492.76" y="55.6" font-size="13" font-weight="bold" text-anchor="middle" fill="#454545" letter-spacing="0.8">*</text>
<text x="510.52" y="91.39999999999999" font-size="13" font-weight="bold" text-anchor="middle" fill="#454545" letter-spacing="0.8">*</text>
<line x1="318.80" y1="219.88" x2="407.60" y2="219.88" stroke="#7a7a7a" stroke-width="1.3"/>
<line x1="318.80" y1="198.25" x2="407.60" y2="198.25" stroke="#7a7a7a" stroke-width="1.3"/>
<line x1="318.80" y1="176.62" x2="407.60" y2="176.62" stroke="#7a7a7a" stroke-width="1.3"/>
<rect x="320.08" y="178.79" width="15.20" height="62.71" fill="#ffffff" stroke="#000" stroke-width="1.1"/>
<line x1="327.68" y1="178.79" x2="327.68" y2="172.30" stroke="#000" stroke-width="1.3"/>
<line x1="324.68" y1="172.30" x2="330.68" y2="172.30" stroke="#000" stroke-width="1.3"/>
<rect x="337.84" y="181.38" width="15.20" height="60.12" fill="#c0c0c0" stroke="#000" stroke-width="1.1"/>
<line x1="345.44" y1="181.38" x2="345.44" y2="163.65" stroke="#000" stroke-width="1.3"/>
<line x1="342.44" y1="163.65" x2="348.44" y2="163.65" stroke="#000" stroke-width="1.3"/>
<rect x="355.60" y="223.12" width="15.20" height="18.38" fill="#ffff00" stroke="#000" stroke-width="1.1"/>
<line x1="363.20" y1="223.12" x2="363.20" y2="212.31" stroke="#000" stroke-width="1.3"/>
<line x1="360.20" y1="212.31" x2="366.20" y2="212.31" stroke="#000" stroke-width="1.3"/>
<rect x="373.36" y="220.96" width="15.20" height="20.54" fill="#ffff00" stroke="#000" stroke-width="1.1"/>
<line x1="380.96" y1="220.96" x2="380.96" y2="210.79" stroke="#000" stroke-width="1.3"/>
<line x1="377.96" y1="210.79" x2="383.96" y2="210.79" stroke="#000" stroke-width="1.3"/>
<rect x="391.12" y="215.55" width="15.20" height="25.95" fill="#ffff00" stroke="#000" stroke-width="1.1"/>
<line x1="398.72" y1="215.55" x2="398.72" y2="198.25" stroke="#000" stroke-width="1.3"/>
<line x1="395.72" y1="198.25" x2="401.72" y2="198.25" stroke="#000" stroke-width="1.3"/>
<line x1="318.80" y1="155.00" x2="407.60" y2="155.00" stroke="#000" stroke-width="1.4"/>
<line x1="407.60" y1="155.00" x2="407.60" y2="241.50" stroke="#000" stroke-width="1.4"/>
<line x1="318.80" y1="154.30" x2="318.80" y2="242.50" stroke="#000" stroke-width="2"/>
<line x1="318.80" y1="241.80" x2="407.60" y2="241.80" stroke="#000" stroke-width="1.6"/>
<line x1="318.80" y1="241.50" x2="318.80" y2="244.70" stroke="#000" stroke-width="1.3"/>
<line x1="336.56" y1="241.50" x2="336.56" y2="244.70" stroke="#000" stroke-width="1.3"/>
<line x1="354.32" y1="241.50" x2="354.32" y2="244.70" stroke="#000" stroke-width="1.3"/>
<line x1="372.08" y1="241.50" x2="372.08" y2="244.70" stroke="#000" stroke-width="1.3"/>
<line x1="389.84" y1="241.50" x2="389.84" y2="244.70" stroke="#000" stroke-width="1.3"/>
<line x1="407.60" y1="241.50" x2="407.60" y2="244.70" stroke="#000" stroke-width="1.3"/>
<line x1="315.80" y1="241.50" x2="318.80" y2="241.50" stroke="#000" stroke-width="1.3"/>
<text x="312.3" y="245.4" font-size="11" text-anchor="end" fill="#000">0</text>
<line x1="315.80" y1="219.88" x2="318.80" y2="219.88" stroke="#000" stroke-width="1.3"/>
<text x="312.3" y="223.775" font-size="11" text-anchor="end" fill="#000">1</text>
<line x1="315.80" y1="198.25" x2="318.80" y2="198.25" stroke="#000" stroke-width="1.3"/>
<text x="312.3" y="202.15" font-size="11" text-anchor="end" fill="#000">2</text>
<line x1="315.80" y1="176.62" x2="318.80" y2="176.62" stroke="#000" stroke-width="1.3"/>
<text x="312.3" y="180.525" font-size="11" text-anchor="end" fill="#000">3</text>
<line x1="315.80" y1="155.00" x2="318.80" y2="155.00" stroke="#000" stroke-width="1.3"/>
<text x="312.3" y="158.9" font-size="11" text-anchor="end" fill="#000">4</text>
<text x="363.6" y="213.6" font-size="13" font-weight="bold" text-anchor="middle" fill="#454545" letter-spacing="0.8">**</text>
<text x="381.36" y="213.6" font-size="13" font-weight="bold" text-anchor="middle" fill="#454545" letter-spacing="0.8">**</text>
<text x="399.12" y="199.6" font-size="13" font-weight="bold" text-anchor="middle" fill="#454545" letter-spacing="0.8">*</text>
<line x1="430.20" y1="219.88" x2="519.00" y2="219.88" stroke="#7a7a7a" stroke-width="1.3"/>
<line x1="430.20" y1="198.25" x2="519.00" y2="198.25" stroke="#7a7a7a" stroke-width="1.3"/>
<line x1="430.20" y1="176.62" x2="519.00" y2="176.62" stroke="#7a7a7a" stroke-width="1.3"/>
<rect x="431.48" y="225.28" width="15.20" height="16.22" fill="#ffffff" stroke="#000" stroke-width="1.1"/>
<line x1="439.08" y1="225.28" x2="439.08" y2="223.12" stroke="#000" stroke-width="1.3"/>
<line x1="436.08" y1="223.12" x2="442.08" y2="223.12" stroke="#000" stroke-width="1.3"/>
<rect x="449.24" y="225.28" width="15.20" height="16.22" fill="#c0c0c0" stroke="#000" stroke-width="1.1"/>
<line x1="456.84" y1="225.28" x2="456.84" y2="222.04" stroke="#000" stroke-width="1.3"/>
<line x1="453.84" y1="222.04" x2="459.84" y2="222.04" stroke="#000" stroke-width="1.3"/>
<rect x="467.00" y="193.93" width="15.20" height="47.57" fill="#4472e0" stroke="#000" stroke-width="1.1"/>
<line x1="474.60" y1="193.93" x2="474.60" y2="184.19" stroke="#000" stroke-width="1.3"/>
<line x1="471.60" y1="184.19" x2="477.60" y2="184.19" stroke="#000" stroke-width="1.3"/>
<rect x="484.76" y="201.93" width="15.20" height="39.57" fill="#4472e0" stroke="#000" stroke-width="1.1"/>
<line x1="492.36" y1="201.93" x2="492.36" y2="196.09" stroke="#000" stroke-width="1.3"/>
<line x1="489.36" y1="196.09" x2="495.36" y2="196.09" stroke="#000" stroke-width="1.3"/>
<rect x="502.52" y="209.06" width="15.20" height="32.44" fill="#4472e0" stroke="#000" stroke-width="1.1"/>
<line x1="510.12" y1="209.06" x2="510.12" y2="206.47" stroke="#000" stroke-width="1.3"/>
<line x1="507.12" y1="206.47" x2="513.12" y2="206.47" stroke="#000" stroke-width="1.3"/>
<line x1="430.20" y1="155.00" x2="519.00" y2="155.00" stroke="#000" stroke-width="1.4"/>
<line x1="519.00" y1="155.00" x2="519.00" y2="241.50" stroke="#000" stroke-width="1.4"/>
<line x1="430.20" y1="154.30" x2="430.20" y2="242.50" stroke="#000" stroke-width="2"/>
<line x1="430.20" y1="241.80" x2="519.00" y2="241.80" stroke="#000" stroke-width="1.6"/>
<line x1="430.20" y1="241.50" x2="430.20" y2="244.70" stroke="#000" stroke-width="1.3"/>
<line x1="447.96" y1="241.50" x2="447.96" y2="244.70" stroke="#000" stroke-width="1.3"/>
<line x1="465.72" y1="241.50" x2="465.72" y2="244.70" stroke="#000" stroke-width="1.3"/>
<line x1="483.48" y1="241.50" x2="483.48" y2="244.70" stroke="#000" stroke-width="1.3"/>
<line x1="501.24" y1="241.50" x2="501.24" y2="244.70" stroke="#000" stroke-width="1.3"/>
<line x1="519.00" y1="241.50" x2="519.00" y2="244.70" stroke="#000" stroke-width="1.3"/>
<line x1="427.20" y1="241.50" x2="430.20" y2="241.50" stroke="#000" stroke-width="1.3"/>
<text x="423.7" y="245.4" font-size="11" text-anchor="end" fill="#000">0</text>
<line x1="427.20" y1="219.88" x2="430.20" y2="219.88" stroke="#000" stroke-width="1.3"/>
<text x="423.7" y="223.775" font-size="11" text-anchor="end" fill="#000">1</text>
<line x1="427.20" y1="198.25" x2="430.20" y2="198.25" stroke="#000" stroke-width="1.3"/>
<text x="423.7" y="202.15" font-size="11" text-anchor="end" fill="#000">2</text>
<line x1="427.20" y1="176.62" x2="430.20" y2="176.62" stroke="#000" stroke-width="1.3"/>
<text x="423.7" y="180.525" font-size="11" text-anchor="end" fill="#000">3</text>
<line x1="427.20" y1="155.00" x2="430.20" y2="155.00" stroke="#000" stroke-width="1.3"/>
<text x="423.7" y="158.9" font-size="11" text-anchor="end" fill="#000">4</text>
<text x="475.0" y="185.4" font-size="13" font-weight="bold" text-anchor="middle" fill="#454545" letter-spacing="0.8">**</text>
<text x="492.76" y="197.4" font-size="13" font-weight="bold" text-anchor="middle" fill="#454545" letter-spacing="0.8">*</text>
<text x="510.52" y="208.4" font-size="13" font-weight="bold" text-anchor="middle" fill="#454545" letter-spacing="0.8">***</text>
<text x="282.5" y="97.5" font-size="11" font-weight="bold" text-anchor="middle" fill="#000" transform="rotate(-90 282.5 97.5)" textLength="85.6" lengthAdjust="spacingAndGlyphs">pSRC/SRC Ratio</text>
<text x="293.6" y="97" font-size="8.7" text-anchor="middle" fill="#333" transform="rotate(-90 293.6 97)" textLength="86.4" lengthAdjust="spacingAndGlyphs">(normalized to β-actin)</text>
<text x="282.5" y="198" font-size="11" font-weight="bold" text-anchor="middle" fill="#000" transform="rotate(-90 282.5 198)" textLength="86" lengthAdjust="spacingAndGlyphs">pFAK / FAK Ratio</text>
<text x="293.6" y="198" font-size="8.7" text-anchor="middle" fill="#333" transform="rotate(-90 293.6 198)" textLength="86.4" lengthAdjust="spacingAndGlyphs">(normalized to β-actin)</text>
<text x="332" y="248.6" font-size="11" text-anchor="end" fill="#000" transform="rotate(-90 332 248.6)">wt</text>
<text x="349.6" y="248.6" font-size="11" text-anchor="end" fill="#000" transform="rotate(-90 349.6 248.6)">shCTR#1</text>
<text x="367.4" y="248.6" font-size="11" text-anchor="end" fill="#000" transform="rotate(-90 367.4 248.6)">shCD90#1</text>
<text x="385.2" y="248.6" font-size="11" text-anchor="end" fill="#000" transform="rotate(-90 385.2 248.6)">shCD90#2</text>
<text x="403" y="248.6" font-size="11" text-anchor="end" fill="#000" transform="rotate(-90 403 248.6)">shCD90#3</text>
<text x="443.4" y="248.6" font-size="11" text-anchor="end" fill="#000" transform="rotate(-90 443.4 248.6)">wt</text>
<text x="461.2" y="248.6" font-size="11" text-anchor="end" fill="#000" transform="rotate(-90 461.2 248.6)">CTR#1</text>
<text x="479" y="248.6" font-size="11" text-anchor="end" fill="#000" transform="rotate(-90 479 248.6)">CD90#1</text>
<text x="496.8" y="248.6" font-size="11" text-anchor="end" fill="#000" transform="rotate(-90 496.8 248.6)">CD90#2</text>
<text x="514.6" y="248.6" font-size="11" text-anchor="end" fill="#000" transform="rotate(-90 514.6 248.6)">CD90#3</text>
<text x="11.5" y="331.4" font-size="14" font-weight="bold" text-anchor="start" fill="#000">C</text>
<text x="73" y="332" font-size="13" font-weight="bold" text-anchor="start" fill="#000" textLength="140.6" lengthAdjust="spacingAndGlyphs">GBM Primary cell lines</text>
<rect x="70.40" y="344.40" width="65.60" height="126.50" fill="none" stroke="#000" stroke-width="1.6"/>
<line x1="65.40" y1="470.90" x2="70.40" y2="470.90" stroke="#000" stroke-width="1.4"/>
<text x="63.400000000000006" y="474.7" font-size="10.8" text-anchor="end" fill="#222">0</text>
<line x1="65.40" y1="442.17" x2="70.40" y2="442.17" stroke="#000" stroke-width="1.4"/>
<text x="63.400000000000006" y="445.97499999999997" font-size="10.8" text-anchor="end" fill="#222">0.25</text>
<line x1="65.40" y1="413.45" x2="70.40" y2="413.45" stroke="#000" stroke-width="1.4"/>
<text x="63.400000000000006" y="417.25" font-size="10.8" text-anchor="end" fill="#222">0.5</text>
<line x1="65.40" y1="384.73" x2="70.40" y2="384.73" stroke="#000" stroke-width="1.4"/>
<text x="63.400000000000006" y="388.52500000000003" font-size="10.8" text-anchor="end" fill="#222">0.75</text>
<line x1="65.40" y1="356.00" x2="70.40" y2="356.00" stroke="#000" stroke-width="1.4"/>
<text x="63.400000000000006" y="359.8" font-size="10.8" text-anchor="end" fill="#222">1</text>
<rect x="155.60" y="344.40" width="65.00" height="126.50" fill="none" stroke="#000" stroke-width="1.6"/>
<line x1="152.00" y1="470.90" x2="155.60" y2="470.90" stroke="#000" stroke-width="1.4"/>
<line x1="152.00" y1="442.17" x2="155.60" y2="442.17" stroke="#000" stroke-width="1.4"/>
<line x1="152.00" y1="413.45" x2="155.60" y2="413.45" stroke="#000" stroke-width="1.4"/>
<line x1="152.00" y1="384.73" x2="155.60" y2="384.73" stroke="#000" stroke-width="1.4"/>
<line x1="152.00" y1="356.00" x2="155.60" y2="356.00" stroke="#000" stroke-width="1.4"/>
<line x1="86.40" y1="470.90" x2="86.40" y2="474.60" stroke="#000" stroke-width="1.4"/>
<line x1="118.60" y1="470.90" x2="118.60" y2="474.60" stroke="#000" stroke-width="1.4"/>
<line x1="171.50" y1="470.90" x2="171.50" y2="474.60" stroke="#000" stroke-width="1.4"/>
<line x1="204.60" y1="470.90" x2="204.60" y2="474.60" stroke="#000" stroke-width="1.4"/>
<text x="43.8" y="485.5" font-size="11" text-anchor="start" fill="#222">CD90:</text>
<text x="86.6" y="485.5" font-size="11" text-anchor="middle" fill="#222">low</text>
<text x="171.6" y="485.5" font-size="11" text-anchor="middle" fill="#222">low</text>
<text x="118.2" y="485.5" font-size="11" text-anchor="middle" fill="#222">high</text>
<text x="204.4" y="485.5" font-size="11" text-anchor="middle" fill="#222">high</text>
<text x="37.6" y="415.5" font-size="11" font-weight="bold" text-anchor="middle" fill="#000" transform="rotate(-90 37.6 415.5)" textLength="100.9" lengthAdjust="spacingAndGlyphs">phospho/total ratio</text>
<text x="72.6" y="362.6" font-size="13.5" font-weight="bold" text-anchor="start" fill="#000" textLength="36" lengthAdjust="spacingAndGlyphs">pSRC</text>
<text x="159.8" y="363.5" font-size="13.5" font-weight="bold" text-anchor="start" fill="#000" textLength="33.8" lengthAdjust="spacingAndGlyphs">pFAK</text>
<path d="M86.4,413.4 V390.7 H103.3" fill="none" stroke="#444" stroke-width="1.4"/>
<text x="95.4" y="393.1" font-size="13" font-weight="bold" text-anchor="middle" fill="#454545" letter-spacing="0.6">***</text>
<path d="M171.4,444.6 V390.6 H188.8" fill="none" stroke="#444" stroke-width="1.4"/>
<text x="180.4" y="392.8" font-size="13" font-weight="bold" text-anchor="middle" fill="#454545" letter-spacing="0.6">***</text>
<rect x="82.90" y="415.20" width="7.00" height="7.00" fill="#f4ee1c" stroke="#000" stroke-width="1.1"/>
<rect x="82.90" y="434.40" width="7.00" height="7.00" fill="#f4ee1c" stroke="#000" stroke-width="1.1"/>
<rect x="88.80" y="452.00" width="7.00" height="7.00" fill="#f4ee1c" stroke="#000" stroke-width="1.1"/>
<rect x="77.50" y="455.50" width="7.00" height="7.00" fill="#f4ee1c" stroke="#000" stroke-width="1.1"/>
<rect x="86.50" y="458.50" width="7.00" height="7.00" fill="#f4ee1c" stroke="#000" stroke-width="1.1"/>
<rect x="79.90" y="460.20" width="7.00" height="7.00" fill="#f4ee1c" stroke="#000" stroke-width="1.1"/>
<line x1="86.40" y1="432.00" x2="86.40" y2="467.00" stroke="#000" stroke-width="1.3"/>
<line x1="80.00" y1="432.00" x2="92.50" y2="432.00" stroke="#000" stroke-width="1.3"/>
<line x1="76.40" y1="449.60" x2="97.40" y2="449.60" stroke="#000" stroke-width="1.5"/>
<line x1="80.00" y1="467.00" x2="92.50" y2="467.00" stroke="#000" stroke-width="1.3"/>
<rect x="110.30" y="346.00" width="7.00" height="7.00" fill="#4a7cd0" stroke="#000" stroke-width="1.1"/>
<rect x="120.80" y="350.20" width="7.00" height="7.00" fill="#4a7cd0" stroke="#000" stroke-width="1.1"/>
<rect x="120.80" y="370.10" width="7.00" height="7.00" fill="#4a7cd0" stroke="#000" stroke-width="1.1"/>
<rect x="110.30" y="378.30" width="7.00" height="7.00" fill="#4a7cd0" stroke="#000" stroke-width="1.1"/>
<rect x="106.80" y="392.80" width="7.00" height="7.00" fill="#4a7cd0" stroke="#000" stroke-width="1.1"/>
<rect x="116.10" y="392.80" width="7.00" height="7.00" fill="#4a7cd0" stroke="#000" stroke-width="1.1"/>
<circle cx="124.30" cy="391.00" r="3.9" fill="#4a7cd0" stroke="#000" stroke-width="1.1"/>
<circle cx="114.30" cy="398.00" r="3.9" fill="#4a7cd0" stroke="#000" stroke-width="1.1"/>
<circle cx="124.30" cy="408.70" r="3.9" fill="#4a7cd0" stroke="#000" stroke-width="1.1"/>
<circle cx="118.50" cy="411.00" r="3.9" fill="#4a7cd0" stroke="#000" stroke-width="1.1"/>
<circle cx="119.60" cy="423.90" r="3.9" fill="#4a7cd0" stroke="#000" stroke-width="1.1"/>
<circle cx="119.20" cy="440.30" r="3.9" fill="#4a7cd0" stroke="#000" stroke-width="1.1"/>
<line x1="118.60" y1="367.70" x2="118.60" y2="420.40" stroke="#000" stroke-width="1.3"/>
<line x1="112.00" y1="367.70" x2="125.20" y2="367.70" stroke="#000" stroke-width="1.3"/>
<line x1="106.80" y1="393.50" x2="129.00" y2="393.50" stroke="#000" stroke-width="1.5"/>
<line x1="112.00" y1="420.40" x2="125.20" y2="420.40" stroke="#000" stroke-width="1.3"/>
<rect x="163.05" y="450.05" width="6.50" height="6.50" fill="#f4ee1c" stroke="#000" stroke-width="1.1"/>
<rect x="174.65" y="448.35" width="6.50" height="6.50" fill="#f4ee1c" stroke="#000" stroke-width="1.1"/>
<rect x="163.05" y="456.25" width="6.50" height="6.50" fill="#f4ee1c" stroke="#000" stroke-width="1.1"/>
<rect x="174.65" y="456.25" width="6.50" height="6.50" fill="#f4ee1c" stroke="#000" stroke-width="1.1"/>
<rect x="167.45" y="458.75" width="6.50" height="6.50" fill="#f4ee1c" stroke="#000" stroke-width="1.1"/>
<line x1="162.00" y1="456.60" x2="181.60" y2="456.60" stroke="#000" stroke-width="1.5"/>
<line x1="171.50" y1="452.00" x2="171.50" y2="461.00" stroke="#000" stroke-width="1.2"/>
<rect x="196.40" y="397.00" width="7.00" height="7.00" fill="#4a7cd0" stroke="#000" stroke-width="1.1"/>
<rect x="206.50" y="406.80" width="7.00" height="7.00" fill="#4a7cd0" stroke="#000" stroke-width="1.1"/>
<rect x="197.50" y="418.00" width="7.00" height="7.00" fill="#4a7cd0" stroke="#000" stroke-width="1.1"/>
<rect x="204.50" y="420.50" width="7.00" height="7.00" fill="#4a7cd0" stroke="#000" stroke-width="1.1"/>
<rect x="199.90" y="423.90" width="7.00" height="7.00" fill="#4a7cd0" stroke="#000" stroke-width="1.1"/>
<rect x="202.50" y="414.50" width="7.00" height="7.00" fill="#4a7cd0" stroke="#000" stroke-width="1.1"/>
<circle cx="199.90" cy="352.50" r="3.9" fill="#4a7cd0" stroke="#000" stroke-width="1.1"/>
<circle cx="210.00" cy="353.70" r="3.9" fill="#4a7cd0" stroke="#000" stroke-width="1.1"/>
<circle cx="210.00" cy="390.00" r="3.9" fill="#4a7cd0" stroke="#000" stroke-width="1.1"/>
<circle cx="196.80" cy="414.00" r="3.9" fill="#4a7cd0" stroke="#000" stroke-width="1.1"/>
<circle cx="204.60" cy="415.00" r="3.9" fill="#4a7cd0" stroke="#000" stroke-width="1.1"/>
<circle cx="210.00" cy="417.30" r="3.9" fill="#4a7cd0" stroke="#000" stroke-width="1.1"/>
<line x1="204.60" y1="377.80" x2="204.60" y2="428.00" stroke="#000" stroke-width="1.3"/>
<line x1="199.00" y1="377.80" x2="210.40" y2="377.80" stroke="#000" stroke-width="1.3"/>
<line x1="194.00" y1="403.30" x2="215.50" y2="403.30" stroke="#000" stroke-width="1.5"/>
<line x1="199.00" y1="428.50" x2="210.40" y2="428.50" stroke="#000" stroke-width="1.3"/>
<text x="11.6" y="533" font-size="14" font-weight="bold" text-anchor="start" fill="#000">D</text>
<text x="113.8" y="531.4" font-size="13" text-anchor="start" fill="#000" textLength="87.7" lengthAdjust="spacingAndGlyphs">SRC Signature</text>
<text x="77.4" y="550" font-size="11.5" font-weight="bold" text-anchor="start" fill="#000">CD90</text>
<text x="106.4" y="545.4" font-size="8.2" font-weight="bold" text-anchor="start" fill="#000" textLength="12.8" lengthAdjust="spacingAndGlyphs">low</text>
<text x="176.3" y="550" font-size="11.5" font-weight="bold" text-anchor="start" fill="#000">CD90</text>
<text x="205.8" y="545.4" font-size="8.2" font-weight="bold" text-anchor="start" fill="#000" textLength="16.6" lengthAdjust="spacingAndGlyphs">high</text>
<text x="27.9" y="562.4" font-size="13" font-weight="bold" text-anchor="middle" fill="#000">GBM</text>
<text x="27.9" y="577.8" font-size="13" font-weight="bold" text-anchor="middle" fill="#000">Primary</text>
<text x="27.7" y="593.2" font-size="13" font-weight="bold" text-anchor="middle" fill="#000">cell lines</text>
<rect x="62.20" y="554.60" width="71.60" height="11.60" fill="#ffff00" stroke="#333" stroke-width="1.3"/>
<rect x="136.30" y="554.40" width="119.30" height="11.80" fill="#4777e2" stroke="#333" stroke-width="1.1"/>
<rect x="61.40" y="568.00" width="11.80" height="29.60" fill="#8e8c6c" stroke="none" stroke-width="1"/>
<rect x="72.90" y="568.00" width="13.00" height="29.60" fill="#cccb3c" stroke="none" stroke-width="1"/>
<rect x="85.60" y="568.00" width="12.00" height="29.60" fill="#a3a24e" stroke="none" stroke-width="1"/>
<rect x="97.30" y="568.00" width="37.60" height="29.60" fill="#b8b642" stroke="none" stroke-width="1"/>
<rect x="134.60" y="568.00" width="11.90" height="29.60" fill="#9a9872" stroke="none" stroke-width="1"/>
<rect x="146.20" y="568.00" width="12.90" height="29.60" fill="#dedb28" stroke="none" stroke-width="1"/>
<rect x="158.80" y="568.00" width="11.50" height="29.60" fill="#6868a0" stroke="none" stroke-width="1"/>
<rect x="170.00" y="568.00" width="25.10" height="29.60" fill="#5a5aa8" stroke="none" stroke-width="1"/>
<rect x="194.80" y="568.00" width="13.20" height="29.60" fill="#3434d4" stroke="none" stroke-width="1"/>
<rect x="207.70" y="568.00" width="11.80" height="29.60" fill="#8a8a92" stroke="none" stroke-width="1"/>
<rect x="219.20" y="568.00" width="12.60" height="29.60" fill="#9e9d7a" stroke="none" stroke-width="1"/>
<rect x="231.50" y="568.00" width="11.80" height="29.60" fill="#1c1cf0" stroke="none" stroke-width="1"/>
<rect x="243.00" y="568.00" width="12.90" height="29.60" fill="#3b3bcc" stroke="none" stroke-width="1"/>
<rect x="65.50" y="568.00" width="3.00" height="29.60" fill="#948c82" stroke="none" stroke-width="1"/>
<rect x="77.00" y="568.00" width="5.00" height="29.60" fill="#d4d34c" stroke="none" stroke-width="1"/>
<rect x="140.50" y="568.00" width="5.70" height="29.60" fill="#939070" stroke="none" stroke-width="1"/>
<rect x="174.00" y="568.00" width="6.00" height="29.60" fill="#6262ac" stroke="none" stroke-width="1"/>
<rect x="186.00" y="568.00" width="4.00" height="29.60" fill="#5555a6" stroke="none" stroke-width="1"/>
<rect x="202.30" y="609.20" width="45.70" height="9.60" fill="url(#sc)" stroke="#222" stroke-width="0.9"/>
<text x="201.8" y="627.6" font-size="9" text-anchor="start" fill="#222">0</text>
<text x="243.8" y="627.6" font-size="9" text-anchor="start" fill="#222">1</text>
<text x="210" y="634.2" font-size="11.5" font-weight="bold" text-anchor="start" fill="#000" textLength="30" lengthAdjust="spacingAndGlyphs">Score</text>
<text x="297.5" y="330.8" font-size="14" font-weight="bold" text-anchor="start" fill="#000">E</text>
<text x="372.8" y="331.6" font-size="13" font-weight="bold" text-anchor="start" fill="#000" textLength="103.8" lengthAdjust="spacingAndGlyphs">GBM Specimens</text>
<text x="321" y="401.8" font-size="10" font-weight="bold" text-anchor="middle" fill="#000" transform="rotate(-90 321 401.8)" textLength="95" lengthAdjust="spacingAndGlyphs">Relative cell number</text>
<rect x="345.40" y="338.60" width="160.00" height="63.00" fill="none" stroke="#6a6a6a" stroke-width="1.1"/>
<text x="339.6" y="348.70000000000005" font-size="10.2" text-anchor="end" fill="#111" textLength="16.6" lengthAdjust="spacingAndGlyphs">100</text>
<text x="339.6" y="371.3" font-size="10.2" text-anchor="end" fill="#111" textLength="11" lengthAdjust="spacingAndGlyphs">60</text>
<text x="339.6" y="394.70000000000005" font-size="10.2" text-anchor="end" fill="#111" textLength="11" lengthAdjust="spacingAndGlyphs">20</text>
<line x1="345.40" y1="401.60" x2="347.60" y2="401.60" stroke="#555" stroke-width="0.8"/>
<line x1="345.40" y1="395.60" x2="346.80" y2="395.60" stroke="#555" stroke-width="0.8"/>
<line x1="345.40" y1="389.60" x2="347.60" y2="389.60" stroke="#555" stroke-width="0.8"/>
<line x1="345.40" y1="383.60" x2="346.80" y2="383.60" stroke="#555" stroke-width="0.8"/>
<line x1="345.40" y1="377.60" x2="347.60" y2="377.60" stroke="#555" stroke-width="0.8"/>
<line x1="345.40" y1="371.60" x2="346.80" y2="371.60" stroke="#555" stroke-width="0.8"/>
<line x1="345.40" y1="365.60" x2="347.60" y2="365.60" stroke="#555" stroke-width="0.8"/>
<line x1="345.40" y1="359.60" x2="346.80" y2="359.60" stroke="#555" stroke-width="0.8"/>
<line x1="345.40" y1="353.60" x2="347.60" y2="353.60" stroke="#555" stroke-width="0.8"/>
<line x1="345.40" y1="347.60" x2="346.80" y2="347.60" stroke="#555" stroke-width="0.8"/>
<line x1="345.40" y1="341.60" x2="347.60" y2="341.60" stroke="#555" stroke-width="0.8"/>
<line x1="346.44" y1="401.60" x2="346.44" y2="400.70" stroke="#555" stroke-width="0.7"/>
<line x1="350.08" y1="401.60" x2="350.08" y2="400.70" stroke="#555" stroke-width="0.7"/>
<line x1="353.72" y1="401.60" x2="353.72" y2="400.70" stroke="#555" stroke-width="0.7"/>
<line x1="357.36" y1="401.60" x2="357.36" y2="400.70" stroke="#555" stroke-width="0.7"/>
<line x1="361.00" y1="401.60" x2="361.00" y2="400.70" stroke="#555" stroke-width="0.7"/>
<line x1="364.64" y1="401.60" x2="364.64" y2="400.70" stroke="#555" stroke-width="0.7"/>
<line x1="368.28" y1="401.60" x2="368.28" y2="400.70" stroke="#555" stroke-width="0.7"/>
<line x1="371.92" y1="401.60" x2="371.92" y2="400.70" stroke="#555" stroke-width="0.7"/>
<line x1="375.56" y1="401.60" x2="375.56" y2="400.70" stroke="#555" stroke-width="0.7"/>
<line x1="379.20" y1="401.60" x2="379.20" y2="400.00" stroke="#555" stroke-width="0.7"/>
<line x1="382.84" y1="401.60" x2="382.84" y2="400.70" stroke="#555" stroke-width="0.7"/>
<line x1="386.48" y1="401.60" x2="386.48" y2="400.70" stroke="#555" stroke-width="0.7"/>
<line x1="390.12" y1="401.60" x2="390.12" y2="400.70" stroke="#555" stroke-width="0.7"/>
<line x1="393.76" y1="401.60" x2="393.76" y2="400.70" stroke="#555" stroke-width="0.7"/>
<line x1="397.40" y1="401.60" x2="397.40" y2="400.70" stroke="#555" stroke-width="0.7"/>
<line x1="401.04" y1="401.60" x2="401.04" y2="400.70" stroke="#555" stroke-width="0.7"/>
<line x1="404.68" y1="401.60" x2="404.68" y2="400.70" stroke="#555" stroke-width="0.7"/>
<line x1="408.32" y1="401.60" x2="408.32" y2="400.70" stroke="#555" stroke-width="0.7"/>
<line x1="411.96" y1="401.60" x2="411.96" y2="400.70" stroke="#555" stroke-width="0.7"/>
<line x1="415.60" y1="401.60" x2="415.60" y2="400.00" stroke="#555" stroke-width="0.7"/>
<line x1="419.24" y1="401.60" x2="419.24" y2="400.70" stroke="#555" stroke-width="0.7"/>
<line x1="422.88" y1="401.60" x2="422.88" y2="400.70" stroke="#555" stroke-width="0.7"/>
<line x1="426.52" y1="401.60" x2="426.52" y2="400.70" stroke="#555" stroke-width="0.7"/>
<line x1="430.16" y1="401.60" x2="430.16" y2="400.70" stroke="#555" stroke-width="0.7"/>
<line x1="433.80" y1="401.60" x2="433.80" y2="400.70" stroke="#555" stroke-width="0.7"/>
<line x1="437.44" y1="401.60" x2="437.44" y2="400.70" stroke="#555" stroke-width="0.7"/>
<line x1="441.08" y1="401.60" x2="441.08" y2="400.70" stroke="#555" stroke-width="0.7"/>
<line x1="444.72" y1="401.60" x2="444.72" y2="400.70" stroke="#555" stroke-width="0.7"/>
<line x1="448.36" y1="401.60" x2="448.36" y2="400.70" stroke="#555" stroke-width="0.7"/>
<line x1="452.00" y1="401.60" x2="452.00" y2="400.00" stroke="#555" stroke-width="0.7"/>
<line x1="455.64" y1="401.60" x2="455.64" y2="400.70" stroke="#555" stroke-width="0.7"/>
<line x1="459.28" y1="401.60" x2="459.28" y2="400.70" stroke="#555" stroke-width="0.7"/>
<line x1="462.92" y1="401.60" x2="462.92" y2="400.70" stroke="#555" stroke-width="0.7"/>
<line x1="466.56" y1="401.60" x2="466.56" y2="400.70" stroke="#555" stroke-width="0.7"/>
<line x1="470.20" y1="401.60" x2="470.20" y2="400.70" stroke="#555" stroke-width="0.7"/>
<line x1="473.84" y1="401.60" x2="473.84" y2="400.70" stroke="#555" stroke-width="0.7"/>
<line x1="477.48" y1="401.60" x2="477.48" y2="400.70" stroke="#555" stroke-width="0.7"/>
<line x1="481.12" y1="401.60" x2="481.12" y2="400.70" stroke="#555" stroke-width="0.7"/>
<line x1="484.76" y1="401.60" x2="484.76" y2="400.70" stroke="#555" stroke-width="0.7"/>
<line x1="488.40" y1="401.60" x2="488.40" y2="400.00" stroke="#555" stroke-width="0.7"/>
<line x1="492.04" y1="401.60" x2="492.04" y2="400.70" stroke="#555" stroke-width="0.7"/>
<line x1="495.68" y1="401.60" x2="495.68" y2="400.70" stroke="#555" stroke-width="0.7"/>
<line x1="499.32" y1="401.60" x2="499.32" y2="400.70" stroke="#555" stroke-width="0.7"/>
<line x1="502.96" y1="401.60" x2="502.96" y2="400.70" stroke="#555" stroke-width="0.7"/>
<clipPath id="ce1"><rect x="345.4" y="337" width="160" height="64.6"/></clipPath><g clip-path="url(#ce1)">
<polyline points="345.9,399.9 346.6,399.8 347.3,399.5 348.0,399.1 348.7,398.7 349.4,398.2 350.1,397.7 350.8,397.1 351.5,396.5 352.2,395.9 352.9,395.0 353.6,394.4 354.3,393.5 355.0,391.9 355.7,390.9 356.4,389.2 357.1,388.5 357.8,386.4 358.5,383.9 359.2,381.6 359.9,380.1 360.6,379.9 361.3,378.1 362.0,375.1 362.7,372.5 363.4,370.9 364.1,367.9 364.8,365.0 365.5,363.4 366.2,361.6 366.9,361.1 367.6,358.3 368.3,357.5 369.0,355.6 369.7,354.0 370.4,350.4 371.1,347.2 371.8,346.7 372.5,346.9 373.2,346.2 373.9,345.8 374.6,344.7 375.3,344.7 376.0,341.3 376.7,339.9 377.4,340.0 378.1,341.4 378.8,342.3 379.5,340.8 380.2,341.0 380.9,341.4 381.6,342.9 382.3,343.2 383.0,343.7 383.7,345.8 384.4,346.6 385.1,347.8 385.8,346.8 386.5,347.4 387.2,348.3 387.9,350.1 388.6,352.5 389.3,353.0 390.0,355.2 390.7,356.0 391.4,359.8 392.1,361.2 392.8,365.0 393.5,367.4 394.2,369.7 394.9,370.8 395.6,370.6 396.3,370.1 397.0,371.8 397.7,374.2 398.4,377.7 399.1,378.1 399.8,379.3 400.5,381.2 401.2,382.5 401.9,383.4 402.6,385.3 403.3,387.1 404.0,388.6 404.7,389.7 405.4,390.5 406.1,391.9 406.8,392.0 407.5,392.9 408.2,393.4 408.9,394.6 409.6,395.4 410.3,396.5 411.0,397.1 411.7,397.4 412.4,397.9 413.1,398.0 413.8,398.6 414.5,398.6 415.2,399.1 415.9,399.1 416.6,399.4 417.3,399.7 418.0,399.8 418.7,399.9 419.4,400.0 420.1,400.2" fill="none" stroke="#000" stroke-width="1.5" stroke-linejoin="round"/>
<polyline points="346.6,400.2 347.3,400.0 348.0,399.7 348.7,399.5 349.4,399.3 350.1,399.0 350.8,398.8 351.5,398.1 352.2,397.9 352.9,397.3 353.6,396.9 354.3,396.2 355.0,395.0 355.7,393.7 356.4,392.4 357.1,391.6 357.8,390.9 358.5,390.7 359.2,389.8 359.9,388.7 360.6,385.5 361.3,384.9 362.0,383.5 362.7,382.0 363.4,378.1 364.1,375.6 364.8,373.4 365.5,371.0 366.2,369.7 366.9,367.9 367.6,368.7 368.3,364.7 369.0,361.3 369.7,356.8 370.4,355.5 371.1,354.3 371.8,353.0 372.5,352.1 373.2,350.6 373.9,349.2 374.6,346.2 375.3,344.2 376.0,343.2 376.7,344.1 377.4,344.3 378.1,342.2 378.8,340.7 379.5,339.7 380.2,341.3 380.9,342.6 381.6,342.8 382.3,341.8 383.0,341.5 383.7,342.0 384.4,343.5 385.1,343.8 385.8,345.8 386.5,346.8 387.2,348.8 387.9,347.8 388.6,349.7 389.3,349.9 390.0,351.0 390.7,352.3 391.4,355.1 392.1,358.2 392.8,359.8 393.5,362.2 394.2,363.9 394.9,364.2 395.6,365.6 396.3,368.2 397.0,372.9 397.7,374.4 398.4,377.3 399.1,379.2 399.8,380.2 400.5,381.6 401.2,381.5 401.9,383.0 402.6,383.8 403.3,385.8 404.0,387.0 404.7,388.7 405.4,390.5 406.1,393.0 406.8,393.8 407.5,394.0 408.2,394.2 408.9,395.2 409.6,396.5 410.3,397.3 411.0,397.6 411.7,398.0 412.4,398.3 413.1,398.7 413.8,399.0 414.5,399.4 415.2,399.6 415.9,399.8 416.6,400.0 417.3,400.1 418.0,400.2" fill="none" stroke="#000" stroke-width="1.5" stroke-linejoin="round"/>
<polyline points="352.2,400.1 352.9,400.0 353.6,399.6 354.3,399.4 355.0,399.0 355.7,398.9 356.4,398.4 357.1,397.7 357.8,396.7 358.5,395.8 359.2,395.5 359.9,395.4 360.6,394.5 361.3,393.2 362.0,391.3 362.7,389.8 363.4,389.0 364.1,387.5 364.8,385.8 365.5,382.1 366.2,378.3 366.9,376.4 367.6,376.1 368.3,375.6 369.0,373.7 369.7,371.4 370.4,369.0 371.1,367.0 371.8,363.4 372.5,361.1 373.2,357.7 373.9,356.2 374.6,354.7 375.3,353.7 376.0,351.9 376.7,350.1 377.4,347.5 378.1,345.9 378.8,345.4 379.5,344.6 380.2,345.0 380.9,343.8 381.6,343.7 382.3,344.1 383.0,343.4 383.7,343.1 384.4,341.5 385.1,342.1 385.8,342.9 386.5,344.1 387.2,344.5 387.9,345.3 388.6,345.1 389.3,346.8 390.0,347.1 390.7,348.1 391.4,348.3 392.1,350.2 392.8,351.2 393.5,354.0 394.2,354.7 394.9,356.6 395.6,356.5 396.3,358.2 397.0,360.8 397.7,363.0 398.4,364.5 399.1,365.3 399.8,366.7 400.5,370.4 401.2,372.1 401.9,373.0 402.6,372.4 403.3,374.4 404.0,378.4 404.7,380.1 405.4,381.9 406.1,384.2 406.8,385.9 407.5,388.0 408.2,388.3 408.9,390.0 409.6,389.5 410.3,390.1 411.0,390.7 411.7,391.5 412.4,391.7 413.1,392.8 413.8,394.2 414.5,395.7 415.2,396.4 415.9,396.8 416.6,397.0 417.3,397.3 418.0,397.7 418.7,398.2 419.4,398.6 420.1,398.9 420.8,399.1 421.5,399.3 422.2,399.5 422.9,399.8 423.6,400.0 424.3,400.2" fill="none" stroke="#000" stroke-width="1.5" stroke-linejoin="round"/>
<polyline points="356.4,400.2 357.1,399.9 357.8,399.6 358.5,399.3 359.2,398.9 359.9,398.6 360.6,397.8 361.3,397.2 362.0,396.3 362.7,395.5 363.4,394.7 364.1,393.7 364.8,393.2 365.5,391.8 366.2,389.2 366.9,385.3 367.6,382.3 368.3,380.8 369.0,380.7 369.7,378.4 370.4,376.8 371.1,373.9 371.8,373.1 372.5,370.5 373.2,368.3 373.9,365.5 374.6,364.1 375.3,361.5 376.0,357.0 376.7,353.8 377.4,351.5 378.1,351.0 378.8,348.4 379.5,347.4 380.2,346.6 380.9,345.1 381.6,342.7 382.3,341.6 383.0,340.4 383.7,340.8 384.4,340.6 385.1,342.4 385.8,340.5 386.5,342.5 387.2,342.8 387.9,345.0 388.6,343.1 389.3,342.5 390.0,341.5 390.7,344.2 391.4,345.0 392.1,347.5 392.8,347.8 393.5,349.3 394.2,351.1 394.9,353.8 395.6,356.1 396.3,358.1 397.0,358.5 397.7,359.5 398.4,359.6 399.1,359.3 399.8,361.6 400.5,365.1 401.2,369.0 401.9,371.4 402.6,372.9 403.3,373.6 404.0,375.1 404.7,377.5 405.4,379.0 406.1,380.1 406.8,379.6 407.5,381.7 408.2,382.5 408.9,384.2 409.6,384.9 410.3,386.3 411.0,387.4 411.7,389.1 412.4,391.0 413.1,392.2 413.8,393.3 414.5,393.6 415.2,394.7 415.9,394.9 416.6,395.5 417.3,396.1 418.0,397.3 418.7,397.8 419.4,398.0 420.1,398.3 420.8,398.6 421.5,398.9 422.2,399.1 422.9,399.4 423.6,399.6 424.3,399.8 425.0,399.8 425.7,400.0 426.4,400.2" fill="none" stroke="#000" stroke-width="1.5" stroke-linejoin="round"/>
<polyline points="352.2,400.2 352.9,400.0 353.6,399.8 354.3,399.5 355.0,399.1 355.7,399.0 356.4,398.6 357.1,398.4 357.8,397.6 358.5,396.9 359.2,396.6 359.9,396.5 360.6,396.0 361.3,394.5 362.0,393.1 362.7,392.3 363.4,391.2 364.1,390.0 364.8,388.7 365.5,386.9 366.2,387.3 366.9,385.3 367.6,385.3 368.3,380.9 369.0,379.9 369.7,377.8 370.4,376.4 371.1,374.9 371.8,372.9 372.5,372.5 373.2,369.6 373.9,366.2 374.6,361.7 375.3,359.7 376.0,357.1 376.7,356.0 377.4,354.0 378.1,352.6 378.8,349.9 379.5,348.5 380.2,347.7 380.9,347.5 381.6,345.9 382.3,345.4 383.0,343.4 383.7,343.1 384.4,341.3 385.1,342.5 385.8,341.6 386.5,341.5 387.2,341.1 387.9,339.7 388.6,339.9 389.3,339.0 390.0,339.6 390.7,341.0 391.4,343.6 392.1,344.9 392.8,345.2 393.5,345.9 394.2,347.7 394.9,350.7 395.6,352.3 396.3,355.6 397.0,355.2 397.7,357.3 398.4,357.8 399.1,360.1 399.8,361.1 400.5,363.6 401.2,366.9 401.9,370.0 402.6,372.5 403.3,373.7 404.0,373.3 404.7,374.3 405.4,374.6 406.1,379.1 406.8,379.6 407.5,382.1 408.2,382.6 408.9,383.9 409.6,383.9 410.3,385.3 411.0,387.0 411.7,389.8 412.4,390.7 413.1,391.9 413.8,392.2 414.5,393.3 415.2,393.6 415.9,395.2 416.6,395.9 417.3,396.7 418.0,397.0 418.7,397.5 419.4,398.2 420.1,398.7 420.8,398.9 421.5,398.9 422.2,399.0 422.9,399.4 423.6,399.8 424.3,400.1 425.0,400.1 425.7,400.3" fill="none" stroke="#000" stroke-width="1.5" stroke-linejoin="round"/>
<polyline points="357.8,400.2 358.5,400.0 359.2,399.7 359.9,399.4 360.6,399.1 361.3,398.7 362.0,398.2 362.7,397.4 363.4,396.6 364.1,396.1 364.8,395.6 365.5,394.9 366.2,394.3 366.9,393.1 367.6,392.5 368.3,390.8 369.0,390.5 369.7,389.4 370.4,387.7 371.1,384.1 371.8,380.6 372.5,378.6 373.2,377.5 373.9,376.9 374.6,374.3 375.3,372.0 376.0,368.4 376.7,364.8 377.4,362.2 378.1,361.8 378.8,361.8 379.5,360.8 380.2,358.4 380.9,354.4 381.6,350.9 382.3,349.4 383.0,348.4 383.7,346.0 384.4,343.7 385.1,343.8 385.8,344.3 386.5,343.0 387.2,341.4 387.9,339.7 388.6,339.0 389.3,339.0 390.0,339.0 390.7,339.0 391.4,341.6 392.1,343.4 392.8,344.3 393.5,344.0 394.2,344.0 394.9,345.6 395.6,347.3 396.3,348.1 397.0,348.6 397.7,349.1 398.4,351.2 399.1,352.6 399.8,354.3 400.5,359.2 401.2,362.7 401.9,365.4 402.6,366.1 403.3,367.3 404.0,367.8 404.7,369.4 405.4,372.6 406.1,373.8 406.8,375.6 407.5,377.6 408.2,381.0 408.9,381.9 409.6,383.1 410.3,384.2 411.0,386.4 411.7,387.9 412.4,389.5 413.1,390.0 413.8,391.1 414.5,392.1 415.2,393.4 415.9,393.2 416.6,394.4 417.3,394.8 418.0,396.2 418.7,396.7 419.4,397.4 420.1,397.7 420.8,398.0 421.5,398.5 422.2,399.0 422.9,399.4 423.6,399.6 424.3,399.8 425.0,399.9 425.7,400.1 426.4,400.2" fill="none" stroke="#000" stroke-width="1.5" stroke-linejoin="round"/>
<polyline points="352.9,400.1 353.6,399.9 354.3,399.7 355.0,399.5 355.7,399.2 356.4,398.9 357.1,398.5 357.8,398.1 358.5,397.9 359.2,397.0 359.9,395.9 360.6,394.9 361.3,393.9 362.0,393.7 362.7,392.7 363.4,392.2 364.1,389.8 364.8,386.2 365.5,383.2 366.2,382.7 366.9,382.0 367.6,380.7 368.3,377.3 369.0,375.5 369.7,372.6 370.4,370.5 371.1,368.9 371.8,367.1 372.5,366.8 373.2,364.3 373.9,362.9 374.6,359.2 375.3,357.5 376.0,354.0 376.7,351.5 377.4,350.1 378.1,349.3 378.8,349.1 379.5,345.9 380.2,342.5 380.9,340.0 381.6,340.3 382.3,340.1 383.0,341.9 383.7,340.1 384.4,342.0 385.1,343.2 385.8,342.4 386.5,340.7 387.2,339.6 387.9,342.4 388.6,344.8 389.3,344.6 390.0,347.1 390.7,348.6 391.4,349.5 392.1,349.3 392.8,349.1 393.5,351.0 394.2,350.7 394.9,354.1 395.6,355.8 396.3,361.4 397.0,363.8 397.7,364.7 398.4,365.8 399.1,366.2 399.8,369.3 400.5,371.4 401.2,374.0 401.9,376.3 402.6,377.7 403.3,378.4 404.0,379.1 404.7,380.9 405.4,383.8 406.1,385.6 406.8,386.6 407.5,386.7 408.2,386.8 408.9,387.7 409.6,389.5 410.3,391.8 411.0,393.4 411.7,394.5 412.4,395.5 413.1,396.0 413.8,396.5 414.5,396.7 415.2,397.3 415.9,397.7 416.6,398.4 417.3,398.5 418.0,398.8 418.7,398.9 419.4,399.2 420.1,399.4 420.8,399.8 421.5,400.0 422.2,400.1 422.9,400.3" fill="none" stroke="#000" stroke-width="1.5" stroke-linejoin="round"/>
<polyline points="371.8,400.3 372.5,400.1 373.2,399.9 373.9,399.7 374.6,399.5 375.3,399.1 376.0,398.6 376.7,398.3 377.4,397.9 378.1,397.3 378.8,396.3 379.5,395.6 380.2,394.3 380.9,393.3 381.6,392.0 382.3,391.0 383.0,390.8 383.7,390.1 384.4,390.1 385.1,388.0 385.8,385.4 386.5,383.1 387.2,380.7 387.9,380.3 388.6,377.3 389.3,376.4 390.0,372.8 390.7,371.4 391.4,368.8 392.1,367.1 392.8,365.3 393.5,362.1 394.2,358.1 394.9,354.6 395.6,353.4 396.3,352.7 397.0,352.2 397.7,349.3 398.4,349.0 399.1,345.7 399.8,345.4 400.5,343.4 401.2,343.4 401.9,341.5 402.6,340.1 403.3,339.3 404.0,340.0 404.7,339.3 405.4,339.3 406.1,339.8 406.8,340.2 407.5,341.8 408.2,342.5 408.9,345.6 409.6,347.2 410.3,347.9 411.0,349.7 411.7,350.5 412.4,352.6 413.1,353.1 413.8,357.6 414.5,360.0 415.2,361.8 415.9,362.7 416.6,364.7 417.3,369.6 418.0,370.5 418.7,373.4 419.4,372.6 420.1,376.9 420.8,377.8 421.5,380.7 422.2,380.3 422.9,383.5 423.6,385.4 424.3,386.0 425.0,387.5 425.7,389.0 426.4,391.5 427.1,392.7 427.8,393.0 428.5,393.4 429.2,394.3 429.9,395.8 430.6,396.7 431.3,396.9 432.0,397.1 432.7,397.7 433.4,398.4 434.1,398.9 434.8,399.5 435.5,399.7 436.2,399.9 436.9,400.0 437.6,400.1 438.3,400.3" fill="none" stroke="#f4f000" stroke-width="1.4" stroke-linejoin="round"/>
<polyline points="371.8,400.2 372.5,400.1 373.2,399.9 373.9,399.7 374.6,399.6 375.3,399.3 376.0,399.0 376.7,398.6 377.4,398.1 378.1,397.6 378.8,397.0 379.5,396.6 380.2,395.9 380.9,395.4 381.6,394.6 382.3,393.9 383.0,392.8 383.7,391.5 384.4,390.6 385.1,388.0 385.8,385.6 386.5,383.2 387.2,382.8 387.9,380.3 388.6,378.5 389.3,376.6 390.0,376.4 390.7,374.4 391.4,371.0 392.1,369.2 392.8,365.4 393.5,365.3 394.2,362.6 394.9,363.2 395.6,358.7 396.3,357.6 397.0,354.7 397.7,353.6 398.4,350.4 399.1,349.6 399.8,349.2 400.5,350.1 401.2,347.7 401.9,346.3 402.6,344.4 403.3,344.3 404.0,343.8 404.7,343.7 405.4,342.2 406.1,340.3 406.8,341.3 407.5,341.9 408.2,343.8 408.9,341.8 409.6,343.0 410.3,343.3 411.0,345.4 411.7,344.7 412.4,345.5 413.1,345.9 413.8,347.5 414.5,349.2 415.2,352.0 415.9,353.5 416.6,354.8 417.3,355.4 418.0,356.9 418.7,358.1 419.4,361.0 420.1,364.6 420.8,366.4 421.5,366.2 422.2,368.3 422.9,372.8 423.6,376.6 424.3,378.4 425.0,380.6 425.7,381.9 426.4,384.2 427.1,385.4 427.8,386.2 428.5,387.2 429.2,387.9 429.9,389.4 430.6,389.9 431.3,391.2 432.0,392.6 432.7,394.1 433.4,394.3 434.1,395.0 434.8,395.8 435.5,396.8 436.2,397.4 436.9,397.7 437.6,397.9 438.3,398.3 439.0,398.8 439.7,399.3 440.4,399.7 441.1,399.9 441.8,400.0 442.5,400.1 443.2,400.2" fill="none" stroke="#f4f000" stroke-width="1.4" stroke-linejoin="round"/>
<polyline points="377.4,400.3 378.1,400.2 378.8,399.8 379.5,399.4 380.2,399.0 380.9,398.7 381.6,398.6 382.3,398.0 383.0,397.4 383.7,396.5 384.4,396.1 385.1,395.0 385.8,394.7 386.5,393.4 387.2,392.4 387.9,390.5 388.6,389.7 389.3,389.3 390.0,388.6 390.7,386.5 391.4,383.5 392.1,382.3 392.8,380.0 393.5,378.5 394.2,374.7 394.9,372.6 395.6,369.6 396.3,367.4 397.0,364.7 397.7,363.3 398.4,359.9 399.1,360.1 399.8,357.3 400.5,357.0 401.2,353.5 401.9,353.6 402.6,353.3 403.3,351.7 404.0,349.9 404.7,346.5 405.4,346.2 406.1,343.4 406.8,342.7 407.5,341.0 408.2,342.5 408.9,343.1 409.6,343.8 410.3,343.6 411.0,343.0 411.7,342.3 412.4,343.4 413.1,344.1 413.8,345.4 414.5,344.7 415.2,343.7 415.9,343.3 416.6,344.9 417.3,349.3 418.0,352.5 418.7,355.3 419.4,354.8 420.1,355.9 420.8,356.1 421.5,359.2 422.2,360.3 422.9,361.1 423.6,363.1 424.3,365.5 425.0,369.4 425.7,370.0 426.4,372.6 427.1,374.8 427.8,378.8 428.5,380.9 429.2,381.3 429.9,379.5 430.6,380.9 431.3,382.3 432.0,385.5 432.7,387.0 433.4,389.1 434.1,390.5 434.8,391.4 435.5,391.5 436.2,393.1 436.9,393.7 437.6,395.0 438.3,395.4 439.0,396.1 439.7,396.6 440.4,397.1 441.1,397.5 441.8,398.0 442.5,398.7 443.2,398.9 443.9,399.1 444.6,399.2 445.3,399.5 446.0,399.9 446.7,400.1" fill="none" stroke="#f4f000" stroke-width="1.4" stroke-linejoin="round"/>
<polyline points="382.3,400.3 383.0,400.0 383.7,399.8 384.4,399.5 385.1,399.2 385.8,398.7 386.5,398.4 387.2,398.0 387.9,397.9 388.6,396.8 389.3,395.7 390.0,394.2 390.7,394.0 391.4,393.3 392.1,392.5 392.8,390.6 393.5,389.4 394.2,387.4 394.9,386.0 395.6,383.4 396.3,381.6 397.0,379.4 397.7,378.1 398.4,376.5 399.1,373.1 399.8,370.9 400.5,367.8 401.2,366.5 401.9,365.1 402.6,362.2 403.3,360.4 404.0,356.2 404.7,354.4 405.4,352.9 406.1,352.4 406.8,351.5 407.5,349.1 408.2,347.9 408.9,345.6 409.6,344.0 410.3,341.8 411.0,342.3 411.7,341.4 412.4,342.2 413.1,341.8 413.8,341.7 414.5,341.2 415.2,342.0 415.9,344.2 416.6,344.9 417.3,345.3 418.0,345.8 418.7,348.1 419.4,349.5 420.1,348.9 420.8,350.4 421.5,352.7 422.2,356.8 422.9,361.1 423.6,363.7 424.3,367.0 425.0,365.9 425.7,368.7 426.4,371.2 427.1,375.0 427.8,376.9 428.5,378.9 429.2,380.9 429.9,384.1 430.6,385.6 431.3,386.8 432.0,386.4 432.7,387.6 433.4,389.5 434.1,391.3 434.8,392.5 435.5,393.2 436.2,394.4 436.9,395.6 437.6,396.7 438.3,397.5 439.0,398.0 439.7,398.5 440.4,399.0 441.1,399.5 441.8,399.9 442.5,400.1 443.2,400.2" fill="none" stroke="#f4f000" stroke-width="1.4" stroke-linejoin="round"/>
<polyline points="383.7,400.2 384.4,400.0 385.1,399.8 385.8,399.7 386.5,399.2 387.2,398.9 387.9,398.3 388.6,398.0 389.3,397.1 390.0,396.7 390.7,396.2 391.4,395.6 392.1,394.1 392.8,393.2 393.5,392.6 394.2,391.4 394.9,389.2 395.6,386.8 396.3,386.2 397.0,384.9 397.7,383.4 398.4,380.3 399.1,379.8 399.8,377.7 400.5,376.5 401.2,374.2 401.9,371.9 402.6,369.4 403.3,366.5 404.0,364.1 404.7,363.1 405.4,360.6 406.1,358.4 406.8,354.8 407.5,351.8 408.2,351.4 408.9,351.2 409.6,350.4 410.3,347.4 411.0,342.9 411.7,341.5 412.4,341.7 413.1,342.2 413.8,342.9 414.5,343.1 415.2,341.2 415.9,340.1 416.6,339.0 417.3,340.2 418.0,339.3 418.7,340.3 419.4,340.6 420.1,344.2 420.8,347.0 421.5,348.3 422.2,347.7 422.9,347.9 423.6,351.0 424.3,354.3 425.0,357.7 425.7,358.9 426.4,360.9 427.1,362.3 427.8,365.9 428.5,368.0 429.2,370.5 429.9,372.6 430.6,376.9 431.3,379.1 432.0,380.0 432.7,381.7 433.4,384.2 434.1,387.0 434.8,387.8 435.5,389.1 436.2,391.7 436.9,393.1 437.6,394.8 438.3,395.5 439.0,396.3 439.7,396.8 440.4,397.2 441.1,397.5 441.8,398.0 442.5,398.5 443.2,399.3 443.9,399.7 444.6,400.0 445.3,400.2" fill="none" stroke="#f4f000" stroke-width="1.4" stroke-linejoin="round"/>
<polyline points="389.3,400.3 390.0,400.1 390.7,399.9 391.4,399.7 392.1,399.5 392.8,399.1 393.5,398.6 394.2,397.8 394.9,397.2 395.6,396.2 396.3,395.6 397.0,394.4 397.7,394.3 398.4,393.9 399.1,392.4 399.8,389.5 400.5,387.0 401.2,385.1 401.9,384.4 402.6,382.8 403.3,382.0 404.0,378.6 404.7,375.6 405.4,372.9 406.1,371.6 406.8,368.9 407.5,365.9 408.2,363.8 408.9,360.3 409.6,357.9 410.3,354.8 411.0,352.8 411.7,350.0 412.4,348.1 413.1,347.1 413.8,347.3 414.5,346.4 415.2,347.7 415.9,344.7 416.6,345.0 417.3,341.9 418.0,343.4 418.7,342.4 419.4,343.2 420.1,342.4 420.8,341.2 421.5,339.9 422.2,340.4 422.9,340.9 423.6,344.0 424.3,344.8 425.0,346.8 425.7,348.1 426.4,350.4 427.1,352.3 427.8,353.6 428.5,355.1 429.2,357.5 429.9,360.5 430.6,362.3 431.3,365.6 432.0,367.7 432.7,369.2 433.4,372.3 434.1,374.5 434.8,377.5 435.5,378.6 436.2,377.6 436.9,382.5 437.6,381.7 438.3,384.3 439.0,383.6 439.7,386.4 440.4,388.6 441.1,390.9 441.8,391.6 442.5,393.3 443.2,394.0 443.9,394.9 444.6,395.7 445.3,396.4 446.0,397.2 446.7,397.8 447.4,398.1 448.1,398.5 448.8,398.9 449.5,399.4 450.2,399.7 450.9,399.9 451.6,400.1 452.3,400.2" fill="none" stroke="#f4f000" stroke-width="1.4" stroke-linejoin="round"/>
<polyline points="390.7,400.1 391.4,400.0 392.1,399.6 392.8,399.3 393.5,398.7 394.2,398.4 394.9,397.8 395.6,397.5 396.3,396.8 397.0,395.8 397.7,395.0 398.4,394.2 399.1,393.4 399.8,392.0 400.5,390.4 401.2,389.5 401.9,389.1 402.6,387.9 403.3,386.1 404.0,384.2 404.7,383.5 405.4,381.2 406.1,378.4 406.8,374.5 407.5,372.1 408.2,368.3 408.9,367.0 409.6,361.8 410.3,360.4 411.0,357.6 411.7,358.6 412.4,359.8 413.1,358.3 413.8,355.6 414.5,349.5 415.2,348.8 415.9,345.6 416.6,346.1 417.3,343.0 418.0,345.9 418.7,344.6 419.4,344.9 420.1,341.5 420.8,341.2 421.5,341.8 422.2,341.5 422.9,341.0 423.6,339.7 424.3,339.9 425.0,340.0 425.7,341.2 426.4,344.0 427.1,347.1 427.8,346.9 428.5,346.3 429.2,346.2 429.9,349.2 430.6,351.4 431.3,353.1 432.0,354.7 432.7,357.2 433.4,357.2 434.1,358.6 434.8,360.5 435.5,365.6 436.2,368.5 436.9,369.3 437.6,369.5 438.3,371.1 439.0,373.6 439.7,376.5 440.4,379.1 441.1,379.8 441.8,381.0 442.5,379.8 443.2,383.2 443.9,385.1 444.6,387.6 445.3,388.6 446.0,390.5 446.7,392.4 447.4,393.2 448.1,393.5 448.8,394.1 449.5,394.7 450.2,395.3 450.9,395.9 451.6,396.8 452.3,397.5 453.0,398.0 453.7,398.3 454.4,398.6 455.1,399.0 455.8,399.4 456.5,399.7 457.2,400.0 457.9,400.1 458.6,400.2 459.3,400.2" fill="none" stroke="#f4f000" stroke-width="1.4" stroke-linejoin="round"/>
<polyline points="378.8,400.3 379.5,400.1 380.2,400.0 380.9,399.9 381.6,399.6 382.3,399.2 383.0,398.6 383.7,398.4 384.4,397.9 385.1,397.6 385.8,396.6 386.5,396.0 387.2,394.8 387.9,394.4 388.6,393.9 389.3,393.7 390.0,392.6 390.7,391.3 391.4,388.8 392.1,386.1 392.8,383.4 393.5,383.2 394.2,382.6 394.9,381.6 395.6,377.3 396.3,374.9 397.0,371.6 397.7,371.1 398.4,370.9 399.1,369.8 399.8,368.1 400.5,363.8 401.2,360.8 401.9,358.3 402.6,356.9 403.3,353.6 404.0,351.8 404.7,350.5 405.4,350.4 406.1,348.7 406.8,347.0 407.5,345.1 408.2,342.0 408.9,342.4 409.6,342.3 410.3,343.4 411.0,341.6 411.7,341.6 412.4,342.0 413.1,341.1 413.8,341.6 414.5,341.9 415.2,343.4 415.9,343.7 416.6,344.6 417.3,344.9 418.0,346.3 418.7,347.4 419.4,349.9 420.1,352.6 420.8,355.3 421.5,358.1 422.2,359.1 422.9,361.1 423.6,363.3 424.3,365.5 425.0,366.6 425.7,369.4 426.4,370.3 427.1,372.9 427.8,373.6 428.5,376.2 429.2,378.2 429.9,380.6 430.6,381.5 431.3,384.2 432.0,385.6 432.7,388.0 433.4,389.4 434.1,390.7 434.8,392.1 435.5,391.9 436.2,393.3 436.9,394.4 437.6,395.7 438.3,396.2 439.0,397.1 439.7,397.7 440.4,398.2 441.1,398.4 441.8,398.8 442.5,399.1 443.2,399.4 443.9,399.7 444.6,400.0 445.3,400.2" fill="none" stroke="#f4f000" stroke-width="1.4" stroke-linejoin="round"/>
</g>
<rect x="345.40" y="408.80" width="160.00" height="62.80" fill="none" stroke="#6a6a6a" stroke-width="1.1"/>
<text x="339.6" y="418.70000000000005" font-size="10.2" text-anchor="end" fill="#111" textLength="16.6" lengthAdjust="spacingAndGlyphs">100</text>
<text x="339.6" y="441.3" font-size="10.2" text-anchor="end" fill="#111" textLength="11" lengthAdjust="spacingAndGlyphs">60</text>
<text x="339.6" y="464.70000000000005" font-size="10.2" text-anchor="end" fill="#111" textLength="11" lengthAdjust="spacingAndGlyphs">20</text>
<line x1="345.40" y1="471.60" x2="347.60" y2="471.60" stroke="#555" stroke-width="0.8"/>
<line x1="345.40" y1="465.60" x2="346.80" y2="465.60" stroke="#555" stroke-width="0.8"/>
<line x1="345.40" y1="459.60" x2="347.60" y2="459.60" stroke="#555" stroke-width="0.8"/>
<line x1="345.40" y1="453.60" x2="346.80" y2="453.60" stroke="#555" stroke-width="0.8"/>
<line x1="345.40" y1="447.60" x2="347.60" y2="447.60" stroke="#555" stroke-width="0.8"/>
<line x1="345.40" y1="441.60" x2="346.80" y2="441.60" stroke="#555" stroke-width="0.8"/>
<line x1="345.40" y1="435.60" x2="347.60" y2="435.60" stroke="#555" stroke-width="0.8"/>
<line x1="345.40" y1="429.60" x2="346.80" y2="429.60" stroke="#555" stroke-width="0.8"/>
<line x1="345.40" y1="423.60" x2="347.60" y2="423.60" stroke="#555" stroke-width="0.8"/>
<line x1="345.40" y1="417.60" x2="346.80" y2="417.60" stroke="#555" stroke-width="0.8"/>
<line x1="345.40" y1="411.60" x2="347.60" y2="411.60" stroke="#555" stroke-width="0.8"/>
<line x1="346.44" y1="471.60" x2="346.44" y2="470.70" stroke="#555" stroke-width="0.7"/>
<line x1="350.08" y1="471.60" x2="350.08" y2="470.70" stroke="#555" stroke-width="0.7"/>
<line x1="353.72" y1="471.60" x2="353.72" y2="470.70" stroke="#555" stroke-width="0.7"/>
<line x1="357.36" y1="471.60" x2="357.36" y2="470.70" stroke="#555" stroke-width="0.7"/>
<line x1="361.00" y1="471.60" x2="361.00" y2="470.70" stroke="#555" stroke-width="0.7"/>
<line x1="364.64" y1="471.60" x2="364.64" y2="470.70" stroke="#555" stroke-width="0.7"/>
<line x1="368.28" y1="471.60" x2="368.28" y2="470.70" stroke="#555" stroke-width="0.7"/>
<line x1="371.92" y1="471.60" x2="371.92" y2="470.70" stroke="#555" stroke-width="0.7"/>
<line x1="375.56" y1="471.60" x2="375.56" y2="470.70" stroke="#555" stroke-width="0.7"/>
<line x1="379.20" y1="471.60" x2="379.20" y2="470.00" stroke="#555" stroke-width="0.7"/>
<line x1="382.84" y1="471.60" x2="382.84" y2="470.70" stroke="#555" stroke-width="0.7"/>
<line x1="386.48" y1="471.60" x2="386.48" y2="470.70" stroke="#555" stroke-width="0.7"/>
<line x1="390.12" y1="471.60" x2="390.12" y2="470.70" stroke="#555" stroke-width="0.7"/>
<line x1="393.76" y1="471.60" x2="393.76" y2="470.70" stroke="#555" stroke-width="0.7"/>
<line x1="397.40" y1="471.60" x2="397.40" y2="470.70" stroke="#555" stroke-width="0.7"/>
<line x1="401.04" y1="471.60" x2="401.04" y2="470.70" stroke="#555" stroke-width="0.7"/>
<line x1="404.68" y1="471.60" x2="404.68" y2="470.70" stroke="#555" stroke-width="0.7"/>
<line x1="408.32" y1="471.60" x2="408.32" y2="470.70" stroke="#555" stroke-width="0.7"/>
<line x1="411.96" y1="471.60" x2="411.96" y2="470.70" stroke="#555" stroke-width="0.7"/>
<line x1="415.60" y1="471.60" x2="415.60" y2="470.00" stroke="#555" stroke-width="0.7"/>
<line x1="419.24" y1="471.60" x2="419.24" y2="470.70" stroke="#555" stroke-width="0.7"/>
<line x1="422.88" y1="471.60" x2="422.88" y2="470.70" stroke="#555" stroke-width="0.7"/>
<line x1="426.52" y1="471.60" x2="426.52" y2="470.70" stroke="#555" stroke-width="0.7"/>
<line x1="430.16" y1="471.60" x2="430.16" y2="470.70" stroke="#555" stroke-width="0.7"/>
<line x1="433.80" y1="471.60" x2="433.80" y2="470.70" stroke="#555" stroke-width="0.7"/>
<line x1="437.44" y1="471.60" x2="437.44" y2="470.70" stroke="#555" stroke-width="0.7"/>
<line x1="441.08" y1="471.60" x2="441.08" y2="470.70" stroke="#555" stroke-width="0.7"/>
<line x1="444.72" y1="471.60" x2="444.72" y2="470.70" stroke="#555" stroke-width="0.7"/>
<line x1="448.36" y1="471.60" x2="448.36" y2="470.70" stroke="#555" stroke-width="0.7"/>
<line x1="452.00" y1="471.60" x2="452.00" y2="470.00" stroke="#555" stroke-width="0.7"/>
<line x1="455.64" y1="471.60" x2="455.64" y2="470.70" stroke="#555" stroke-width="0.7"/>
<line x1="459.28" y1="471.60" x2="459.28" y2="470.70" stroke="#555" stroke-width="0.7"/>
<line x1="462.92" y1="471.60" x2="462.92" y2="470.70" stroke="#555" stroke-width="0.7"/>
<line x1="466.56" y1="471.60" x2="466.56" y2="470.70" stroke="#555" stroke-width="0.7"/>
<line x1="470.20" y1="471.60" x2="470.20" y2="470.70" stroke="#555" stroke-width="0.7"/>
<line x1="473.84" y1="471.60" x2="473.84" y2="470.70" stroke="#555" stroke-width="0.7"/>
<line x1="477.48" y1="471.60" x2="477.48" y2="470.70" stroke="#555" stroke-width="0.7"/>
<line x1="481.12" y1="471.60" x2="481.12" y2="470.70" stroke="#555" stroke-width="0.7"/>
<line x1="484.76" y1="471.60" x2="484.76" y2="470.70" stroke="#555" stroke-width="0.7"/>
<line x1="488.40" y1="471.60" x2="488.40" y2="470.00" stroke="#555" stroke-width="0.7"/>
<line x1="492.04" y1="471.60" x2="492.04" y2="470.70" stroke="#555" stroke-width="0.7"/>
<line x1="495.68" y1="471.60" x2="495.68" y2="470.70" stroke="#555" stroke-width="0.7"/>
<line x1="499.32" y1="471.60" x2="499.32" y2="470.70" stroke="#555" stroke-width="0.7"/>
<line x1="502.96" y1="471.60" x2="502.96" y2="470.70" stroke="#555" stroke-width="0.7"/>
<clipPath id="ce2"><rect x="345.4" y="407.2" width="160" height="64.4"/></clipPath><g clip-path="url(#ce2)">
<polyline points="348.7,470.1 349.4,469.7 350.1,469.3 350.8,468.9 351.5,468.6 352.2,468.0 352.9,467.2 353.6,466.3 354.3,465.8 355.0,465.4 355.7,464.2 356.4,462.0 357.1,459.2 357.8,458.2 358.5,456.0 359.2,454.9 359.9,451.3 360.6,449.4 361.3,447.2 362.0,445.5 362.7,445.1 363.4,442.5 364.1,440.9 364.8,436.0 365.5,432.6 366.2,427.6 366.9,425.3 367.6,423.6 368.3,422.0 369.0,420.8 369.7,417.9 370.4,416.4 371.1,415.6 371.8,415.0 372.5,414.3 373.2,413.0 373.9,411.6 374.6,409.8 375.3,409.6 376.0,410.6 376.7,414.1 377.4,413.8 378.1,414.0 378.8,414.1 379.5,414.0 380.2,413.6 380.9,413.0 381.6,414.5 382.3,417.1 383.0,417.2 383.7,419.8 384.4,421.1 385.1,422.1 385.8,423.0 386.5,424.8 387.2,429.3 387.9,433.2 388.6,436.5 389.3,438.9 390.0,441.6 390.7,444.1 391.4,446.2 392.1,447.0 392.8,451.3 393.5,455.5 394.2,459.3 394.9,459.6 395.6,460.6 396.3,461.3 397.0,463.6 397.7,465.4 398.4,466.6 399.1,467.3 399.8,468.0 400.5,468.6 401.2,469.1 401.9,469.5 402.6,469.9" fill="none" stroke="#000" stroke-width="1.5" stroke-linejoin="round"/>
<polyline points="352.9,470.2 353.6,470.0 354.3,469.6 355.0,469.0 355.7,468.6 356.4,467.6 357.1,466.6 357.8,465.4 358.5,464.2 359.2,463.5 359.9,462.5 360.6,461.0 361.3,457.8 362.0,454.2 362.7,450.3 363.4,448.3 364.1,446.6 364.8,445.1 365.5,442.5 366.2,439.8 366.9,438.8 367.6,435.0 368.3,433.0 369.0,428.9 369.7,428.4 370.4,424.0 371.1,423.1 371.8,419.0 372.5,419.5 373.2,417.4 373.9,415.7 374.6,413.9 375.3,412.6 376.0,413.4 376.7,414.3 377.4,413.8 378.1,412.8 378.8,411.7 379.5,411.5 380.2,412.7 380.9,412.8 381.6,413.7 382.3,414.2 383.0,412.1 383.7,414.5 384.4,414.6 385.1,417.3 385.8,419.5 386.5,423.8 387.2,426.5 387.9,427.7 388.6,428.6 389.3,430.9 390.0,433.7 390.7,438.0 391.4,444.5 392.1,447.0 392.8,449.8 393.5,449.9 394.2,452.5 394.9,455.3 395.6,456.7 396.3,458.4 397.0,459.4 397.7,462.5 398.4,464.5 399.1,466.0 399.8,466.9 400.5,467.9 401.2,468.4 401.9,468.9 402.6,469.3 403.3,469.8 404.0,470.1" fill="none" stroke="#000" stroke-width="1.5" stroke-linejoin="round"/>
<polyline points="355.7,470.2 356.4,469.7 357.1,469.3 357.8,468.5 358.5,468.2 359.2,467.3 359.9,466.8 360.6,465.6 361.3,464.0 362.0,461.9 362.7,460.1 363.4,458.8 364.1,457.0 364.8,454.7 365.5,452.0 366.2,448.5 366.9,445.4 367.6,443.7 368.3,440.7 369.0,438.0 369.7,433.5 370.4,430.2 371.1,427.7 371.8,428.5 372.5,426.0 373.2,422.7 373.9,419.3 374.6,419.8 375.3,419.9 376.0,416.9 376.7,414.9 377.4,413.5 378.1,413.4 378.8,410.9 379.5,410.3 380.2,410.4 380.9,412.0 381.6,410.5 382.3,409.6 383.0,409.4 383.7,412.6 384.4,414.9 385.1,415.2 385.8,415.7 386.5,415.7 387.2,417.5 387.9,418.6 388.6,421.0 389.3,423.4 390.0,427.0 390.7,430.7 391.4,432.0 392.1,435.4 392.8,438.6 393.5,442.8 394.2,444.9 394.9,448.1 395.6,453.0 396.3,454.9 397.0,455.9 397.7,456.6 398.4,459.2 399.1,461.2 399.8,463.7 400.5,465.1 401.2,466.6 401.9,467.3 402.6,468.1 403.3,468.6 404.0,469.2 404.7,469.6 405.4,470.1" fill="none" stroke="#000" stroke-width="1.5" stroke-linejoin="round"/>
<polyline points="357.8,470.2 358.5,469.9 359.2,469.7 359.9,469.1 360.6,468.6 361.3,467.8 362.0,467.0 362.7,465.4 363.4,464.2 364.1,463.2 364.8,461.5 365.5,458.6 366.2,456.9 366.9,454.5 367.6,452.7 368.3,448.3 369.0,445.0 369.7,442.6 370.4,441.9 371.1,439.8 371.8,434.9 372.5,430.0 373.2,427.3 373.9,424.0 374.6,423.0 375.3,420.0 376.0,420.5 376.7,417.6 377.4,416.7 378.1,413.4 378.8,413.2 379.5,412.8 380.2,415.0 380.9,413.3 381.6,412.9 382.3,411.0 383.0,412.4 383.7,412.3 384.4,411.9 385.1,411.3 385.8,410.8 386.5,411.9 387.2,412.9 387.9,415.9 388.6,416.8 389.3,417.9 390.0,417.4 390.7,422.1 391.4,425.9 392.1,431.2 392.8,432.8 393.5,433.1 394.2,433.5 394.9,435.7 395.6,439.4 396.3,442.2 397.0,445.3 397.7,447.8 398.4,451.0 399.1,455.0 399.8,457.7 400.5,458.9 401.2,459.8 401.9,461.5 402.6,463.8 403.3,465.1 404.0,465.9 404.7,466.9 405.4,467.8 406.1,469.0 406.8,469.5 407.5,469.9 408.2,470.1 408.9,470.3" fill="none" stroke="#000" stroke-width="1.5" stroke-linejoin="round"/>
<polyline points="358.5,470.0 359.2,469.7 359.9,469.1 360.6,468.6 361.3,467.9 362.0,467.4 362.7,466.9 363.4,465.7 364.1,464.4 364.8,462.5 365.5,461.8 366.2,460.6 366.9,458.7 367.6,455.3 368.3,451.8 369.0,450.8 369.7,448.0 370.4,447.0 371.1,443.0 371.8,440.3 372.5,436.3 373.2,434.2 373.9,431.7 374.6,430.7 375.3,428.9 376.0,426.2 376.7,423.0 377.4,421.2 378.1,420.6 378.8,419.0 379.5,414.8 380.2,412.0 380.9,410.4 381.6,412.6 382.3,413.2 383.0,413.1 383.7,411.0 384.4,410.4 385.1,411.0 385.8,409.9 386.5,409.1 387.2,409.3 387.9,412.2 388.6,412.5 389.3,413.9 390.0,413.3 390.7,415.0 391.4,417.2 392.1,420.2 392.8,424.6 393.5,426.0 394.2,428.8 394.9,429.7 395.6,432.7 396.3,436.1 397.0,440.0 397.7,443.9 398.4,447.3 399.1,449.2 399.8,452.5 400.5,455.2 401.2,458.9 401.9,461.0 402.6,463.4 403.3,464.4 404.0,465.6 404.7,466.4 405.4,467.6 406.1,468.4 406.8,469.1 407.5,469.5 408.2,469.7 408.9,470.0 409.6,470.2" fill="none" stroke="#000" stroke-width="1.5" stroke-linejoin="round"/>
<polyline points="362.0,470.1 362.7,469.8 363.4,469.4 364.1,469.1 364.8,468.5 365.5,467.9 366.2,467.0 366.9,466.0 367.6,464.9 368.3,463.7 369.0,461.7 369.7,459.7 370.4,456.6 371.1,454.6 371.8,453.2 372.5,452.4 373.2,449.4 373.9,443.9 374.6,439.0 375.3,436.3 376.0,433.9 376.7,432.7 377.4,428.4 378.1,426.9 378.8,422.6 379.5,420.6 380.2,418.4 380.9,417.0 381.6,416.9 382.3,415.4 383.0,413.7 383.7,409.0 384.4,409.0 385.1,409.0 385.8,411.8 386.5,411.4 387.2,413.0 387.9,412.8 388.6,413.6 389.3,413.4 390.0,411.7 390.7,411.7 391.4,411.9 392.1,414.8 392.8,418.2 393.5,420.4 394.2,421.1 394.9,421.3 395.6,421.8 396.3,424.3 397.0,427.8 397.7,430.4 398.4,434.6 399.1,436.8 399.8,438.6 400.5,438.9 401.2,442.1 401.9,446.5 402.6,449.0 403.3,449.6 404.0,453.1 404.7,456.6 405.4,459.5 406.1,459.9 406.8,461.8 407.5,463.1 408.2,464.9 408.9,465.3 409.6,466.4 410.3,467.3 411.0,468.4 411.7,468.9 412.4,469.3 413.1,469.7 413.8,470.1" fill="none" stroke="#000" stroke-width="1.5" stroke-linejoin="round"/>
<polyline points="364.8,470.3 365.5,470.0 366.2,469.4 366.9,468.8 367.6,468.0 368.3,467.1 369.0,466.0 369.7,464.8 370.4,463.2 371.1,461.2 371.8,460.3 372.5,458.5 373.2,456.7 373.9,453.9 374.6,452.5 375.3,450.2 376.0,446.1 376.7,442.6 377.4,438.1 378.1,435.6 378.8,434.0 379.5,432.3 380.2,429.3 380.9,426.2 381.6,421.0 382.3,419.6 383.0,417.7 383.7,417.4 384.4,415.0 385.1,413.1 385.8,413.3 386.5,412.7 387.2,411.3 387.9,410.0 388.6,410.4 389.3,410.6 390.0,410.5 390.7,409.6 391.4,412.9 392.1,414.7 392.8,416.6 393.5,414.7 394.2,414.7 394.9,414.4 395.6,415.2 396.3,417.3 397.0,420.1 397.7,421.4 398.4,424.4 399.1,426.9 399.8,430.0 400.5,432.2 401.2,437.4 401.9,441.6 402.6,445.3 403.3,446.6 404.0,448.9 404.7,451.0 405.4,453.9 406.1,456.5 406.8,458.8 407.5,460.7 408.2,462.7 408.9,464.3 409.6,465.7 410.3,467.0 411.0,467.9 411.7,468.7 412.4,469.3 413.1,469.6 413.8,470.0 414.5,470.2" fill="none" stroke="#000" stroke-width="1.5" stroke-linejoin="round"/>
<polyline points="376.7,470.2 377.4,470.1 378.1,469.9 378.8,469.8 379.5,469.6 380.2,469.5 380.9,469.5 381.6,469.5 382.3,469.3 383.0,469.2 383.7,469.0 384.4,468.9 385.1,468.6 385.8,468.7 386.5,468.6 387.2,468.5 387.9,468.4 388.6,468.3 389.3,468.5 390.0,468.2 390.7,468.3 391.4,468.3 392.1,468.6 392.8,468.5 393.5,468.2 394.2,468.2 394.9,468.0 395.6,468.2 396.3,467.9 397.0,467.8 397.7,467.5 398.4,467.9 399.1,467.9 399.8,468.2 400.5,467.9 401.2,467.7 401.9,467.6 402.6,467.6 403.3,467.6 404.0,467.1 404.7,466.4 405.4,465.7 406.1,464.8 406.8,463.4 407.5,461.5 408.2,459.9 408.9,458.5 409.6,456.9 410.3,454.0 411.0,451.8 411.7,448.4 412.4,444.7 413.1,440.6 413.8,438.5 414.5,434.5 415.2,430.6 415.9,427.8 416.6,426.8 417.3,424.6 418.0,422.4 418.7,419.6 419.4,418.6 420.1,416.7 420.8,415.7 421.5,415.9 422.2,414.8 422.9,415.7 423.6,411.8 424.3,409.8 425.0,409.0 425.7,409.0 426.4,409.3 427.1,409.6 427.8,409.5 428.5,410.4 429.2,413.3 429.9,415.1 430.6,417.9 431.3,419.9 432.0,423.2 432.7,424.5 433.4,424.8 434.1,427.5 434.8,428.9 435.5,431.2 436.2,433.1 436.9,437.8 437.6,442.0 438.3,443.5 439.0,446.1 439.7,449.6 440.4,452.6 441.1,456.1 441.8,457.1 442.5,458.5 443.2,459.0 443.9,460.5 444.6,462.4 445.3,463.6 446.0,465.0 446.7,466.4 447.4,467.4 448.1,468.1 448.8,468.4 449.5,468.8 450.2,469.2 450.9,469.7 451.6,470.1" fill="none" stroke="#1616cc" stroke-width="1.4" stroke-linejoin="round"/>
<polyline points="380.9,470.3 381.6,470.1 382.3,470.0 383.0,470.0 383.7,469.8 384.4,469.6 385.1,469.5 385.8,469.4 386.5,469.2 387.2,469.0 387.9,468.9 388.6,468.8 389.3,468.8 390.0,468.8 390.7,468.7 391.4,468.6 392.1,468.4 392.8,468.2 393.5,468.0 394.2,467.8 394.9,468.1 395.6,468.1 396.3,468.2 397.0,468.1 397.7,468.3 398.4,468.1 399.1,467.9 399.8,467.9 400.5,468.2 401.2,468.3 401.9,468.3 402.6,467.9 403.3,468.1 404.0,468.2 404.7,468.4 405.4,468.0 406.1,467.5 406.8,467.0 407.5,466.1 408.2,465.6 408.9,465.1 409.6,465.3 410.3,464.2 411.0,462.5 411.7,460.4 412.4,458.1 413.1,456.6 413.8,453.1 414.5,451.2 415.2,449.5 415.9,448.8 416.6,447.7 417.3,445.4 418.0,441.6 418.7,436.4 419.4,430.1 420.1,427.5 420.8,425.6 421.5,425.7 422.2,422.3 422.9,419.5 423.6,417.0 424.3,415.6 425.0,414.0 425.7,414.0 426.4,413.0 427.1,412.8 427.8,411.1 428.5,412.0 429.2,410.5 429.9,409.0 430.6,409.0 431.3,410.0 432.0,412.5 432.7,414.1 433.4,415.1 434.1,416.4 434.8,420.2 435.5,419.1 436.2,419.3 436.9,419.3 437.6,423.0 438.3,426.6 439.0,429.8 439.7,432.0 440.4,434.9 441.1,436.1 441.8,439.8 442.5,442.5 443.2,445.1 443.9,447.3 444.6,448.4 445.3,452.2 446.0,456.0 446.7,457.8 447.4,460.0 448.1,459.9 448.8,462.3 449.5,463.8 450.2,465.1 450.9,465.6 451.6,466.1 452.3,467.2 453.0,467.8 453.7,468.6 454.4,469.0 455.1,469.5 455.8,469.8 456.5,470.0 457.2,470.2" fill="none" stroke="#1616cc" stroke-width="1.4" stroke-linejoin="round"/>
<polyline points="384.4,470.3 385.1,470.2 385.8,470.1 386.5,469.9 387.2,469.9 387.9,469.8 388.6,469.7 389.3,469.6 390.0,469.6 390.7,469.5 391.4,469.1 392.1,469.1 392.8,468.9 393.5,469.0 394.2,468.7 394.9,468.5 395.6,468.2 396.3,468.2 397.0,468.2 397.7,468.3 398.4,468.0 399.1,467.9 399.8,467.9 400.5,468.2 401.2,468.0 401.9,467.8 402.6,467.5 403.3,467.7 404.0,467.9 404.7,468.1 405.4,468.2 406.1,468.1 406.8,468.0 407.5,468.0 408.2,467.9 408.9,467.5 409.6,467.0 410.3,466.6 411.0,466.6 411.7,466.0 412.4,465.3 413.1,464.2 413.8,463.8 414.5,462.4 415.2,460.9 415.9,458.1 416.6,456.7 417.3,453.7 418.0,452.0 418.7,450.6 419.4,448.7 420.1,446.0 420.8,441.3 421.5,438.7 422.2,435.9 422.9,432.9 423.6,428.7 424.3,425.0 425.0,422.2 425.7,420.5 426.4,418.3 427.1,416.4 427.8,414.8 428.5,413.9 429.2,413.3 429.9,410.6 430.6,409.9 431.3,409.8 432.0,412.0 432.7,412.0 433.4,411.5 434.1,412.3 434.8,414.3 435.5,414.6 436.2,415.6 436.9,414.3 437.6,415.4 438.3,414.1 439.0,414.1 439.7,415.5 440.4,418.7 441.1,423.2 441.8,426.3 442.5,427.9 443.2,431.0 443.9,432.7 444.6,435.2 445.3,435.3 446.0,438.2 446.7,440.7 447.4,444.4 448.1,447.0 448.8,451.0 449.5,452.5 450.2,452.9 450.9,453.5 451.6,455.4 452.3,458.8 453.0,459.8 453.7,461.8 454.4,462.4 455.1,464.1 455.8,465.2 456.5,466.1 457.2,466.9 457.9,467.5 458.6,468.2 459.3,468.7 460.0,469.2 460.7,469.6 461.4,469.9 462.1,470.1" fill="none" stroke="#1616cc" stroke-width="1.4" stroke-linejoin="round"/>
<polyline points="388.6,470.3 389.3,470.3 390.0,470.1 390.7,470.0 391.4,469.7 392.1,469.5 392.8,469.5 393.5,469.5 394.2,469.5 394.9,469.4 395.6,469.1 396.3,468.7 397.0,468.6 397.7,468.6 398.4,468.7 399.1,468.6 399.8,468.6 400.5,468.5 401.2,468.3 401.9,468.0 402.6,468.1 403.3,468.1 404.0,468.4 404.7,468.1 405.4,468.2 406.1,467.9 406.8,468.1 407.5,468.0 408.2,468.1 408.9,468.2 409.6,467.8 410.3,467.5 411.0,467.0 411.7,466.7 412.4,466.4 413.1,465.9 413.8,465.9 414.5,465.0 415.2,464.2 415.9,463.2 416.6,462.6 417.3,461.6 418.0,459.8 418.7,459.2 419.4,457.8 420.1,457.1 420.8,453.9 421.5,453.5 422.2,450.1 422.9,448.1 423.6,444.0 424.3,442.4 425.0,440.5 425.7,437.9 426.4,436.4 427.1,433.1 427.8,430.4 428.5,426.3 429.2,423.1 429.9,420.8 430.6,417.0 431.3,414.9 432.0,414.4 432.7,415.5 433.4,415.5 434.1,413.8 434.8,413.2 435.5,413.0 436.2,411.2 436.9,410.5 437.6,410.1 438.3,411.9 439.0,412.4 439.7,411.3 440.4,411.3 441.1,410.9 441.8,415.9 442.5,417.2 443.2,418.7 443.9,415.7 444.6,417.7 445.3,422.2 446.0,425.5 446.7,428.3 447.4,430.7 448.1,434.2 448.8,435.2 449.5,435.1 450.2,436.5 450.9,440.9 451.6,442.2 452.3,446.3 453.0,447.8 453.7,453.6 454.4,453.5 455.1,455.1 455.8,455.6 456.5,458.2 457.2,460.1 457.9,461.9 458.6,463.9 459.3,464.7 460.0,465.5 460.7,466.1 461.4,467.1 462.1,467.8 462.8,468.2 463.5,468.7 464.2,469.1 464.9,469.6 465.6,470.0 466.3,470.3" fill="none" stroke="#1616cc" stroke-width="1.4" stroke-linejoin="round"/>
<polyline points="400.5,470.2 401.2,470.1 401.9,470.0 402.6,469.8 403.3,469.7 404.0,469.6 404.7,469.6 405.4,469.6 406.1,469.5 406.8,469.2 407.5,469.1 408.2,469.0 408.9,469.0 409.6,468.8 410.3,468.6 411.0,468.3 411.7,468.0 412.4,467.9 413.1,467.9 413.8,467.8 414.5,467.7 415.2,467.3 415.9,467.6 416.6,467.5 417.3,467.5 418.0,466.7 418.7,466.6 419.4,466.4 420.1,466.1 420.8,465.6 421.5,465.7 422.2,465.6 422.9,465.3 423.6,463.9 424.3,463.4 425.0,461.4 425.7,460.5 426.4,459.4 427.1,459.3 427.8,458.8 428.5,456.7 429.2,453.7 429.9,451.2 430.6,448.8 431.3,449.0 432.0,446.6 432.7,443.2 433.4,441.5 434.1,438.4 434.8,437.2 435.5,435.3 436.2,435.4 436.9,435.1 437.6,430.3 438.3,427.3 439.0,424.5 439.7,422.8 440.4,420.5 441.1,418.5 441.8,417.8 442.5,415.5 443.2,415.2 443.9,412.4 444.6,412.8 445.3,412.1 446.0,412.5 446.7,411.4 447.4,412.2 448.1,412.4 448.8,414.0 449.5,413.0 450.2,412.6 450.9,412.5 451.6,412.0 452.3,413.8 453.0,412.4 453.7,414.1 454.4,416.4 455.1,420.9 455.8,423.7 456.5,424.8 457.2,426.3 457.9,427.3 458.6,430.0 459.3,432.7 460.0,436.2 460.7,439.4 461.4,442.1 462.1,444.5 462.8,446.4 463.5,449.8 464.2,454.4 464.9,457.6 465.6,459.0 466.3,461.1 467.0,462.4 467.7,463.8 468.4,464.4 469.1,465.7 469.8,466.4 470.5,467.0 471.2,467.7 471.9,468.4 472.6,469.0 473.3,469.5 474.0,469.8 474.7,470.1" fill="none" stroke="#1616cc" stroke-width="1.4" stroke-linejoin="round"/>
<polyline points="406.8,470.3 407.5,470.1 408.2,470.0 408.9,469.9 409.6,469.8 410.3,469.6 411.0,469.6 411.7,469.5 412.4,469.4 413.1,469.2 413.8,469.2 414.5,469.1 415.2,468.9 415.9,468.7 416.6,468.6 417.3,468.4 418.0,468.2 418.7,468.2 419.4,468.0 420.1,467.8 420.8,467.5 421.5,467.7 422.2,467.7 422.9,467.5 423.6,467.1 424.3,466.8 425.0,466.9 425.7,466.1 426.4,466.2 427.1,465.0 427.8,465.0 428.5,464.7 429.2,464.5 429.9,463.7 430.6,462.3 431.3,460.9 432.0,460.4 432.7,459.3 433.4,458.2 434.1,456.4 434.8,455.8 435.5,455.6 436.2,453.1 436.9,449.8 437.6,447.7 438.3,447.5 439.0,445.0 439.7,443.4 440.4,439.8 441.1,439.4 441.8,437.3 442.5,435.1 443.2,432.3 443.9,427.3 444.6,423.2 445.3,421.2 446.0,419.7 446.7,419.0 447.4,417.7 448.1,417.9 448.8,416.1 449.5,414.8 450.2,413.1 450.9,413.9 451.6,413.1 452.3,413.1 453.0,411.8 453.7,410.4 454.4,410.1 455.1,412.0 455.8,413.1 456.5,414.3 457.2,414.0 457.9,413.5 458.6,411.0 459.3,411.1 460.0,414.4 460.7,417.3 461.4,421.4 462.1,423.0 462.8,424.5 463.5,424.2 464.2,427.3 464.9,432.8 465.6,435.4 466.3,436.9 467.0,438.8 467.7,441.9 468.4,445.1 469.1,448.9 469.8,451.1 470.5,453.6 471.2,455.0 471.9,458.4 472.6,459.6 473.3,461.1 474.0,461.7 474.7,463.3 475.4,464.0 476.1,465.5 476.8,466.5 477.5,467.8 478.2,468.5 478.9,468.9 479.6,468.9 480.3,469.4 481.0,469.8 481.7,470.2" fill="none" stroke="#1616cc" stroke-width="1.4" stroke-linejoin="round"/>
<polyline points="411.7,470.3 412.4,470.2 413.1,470.2 413.8,470.1 414.5,470.2 415.2,469.9 415.9,469.8 416.6,469.7 417.3,469.5 418.0,469.3 418.7,469.2 419.4,469.2 420.1,469.2 420.8,469.0 421.5,468.6 422.2,468.4 422.9,468.2 423.6,468.4 424.3,468.0 425.0,467.9 425.7,467.7 426.4,467.9 427.1,467.9 427.8,467.5 428.5,467.0 429.2,466.5 429.9,466.6 430.6,466.6 431.3,466.4 432.0,465.8 432.7,465.1 433.4,464.8 434.1,464.3 434.8,463.6 435.5,462.6 436.2,462.0 436.9,461.9 437.6,461.2 438.3,460.4 439.0,458.3 439.7,456.7 440.4,455.2 441.1,452.5 441.8,450.1 442.5,447.8 443.2,447.7 443.9,447.3 444.6,444.5 445.3,441.3 446.0,439.2 446.7,437.9 447.4,435.0 448.1,431.9 448.8,429.1 449.5,428.2 450.2,426.7 450.9,425.5 451.6,423.0 452.3,422.9 453.0,421.3 453.7,421.0 454.4,416.6 455.1,413.9 455.8,410.2 456.5,409.9 457.2,411.0 457.9,411.1 458.6,411.6 459.3,410.4 460.0,411.9 460.7,412.2 461.4,412.4 462.1,410.1 462.8,409.8 463.5,409.0 464.2,409.0 464.9,410.3 465.6,413.4 466.3,417.9 467.0,418.4 467.7,420.5 468.4,421.6 469.1,422.7 469.8,423.6 470.5,425.7 471.2,429.0 471.9,432.3 472.6,435.1 473.3,437.2 474.0,440.0 474.7,442.2 475.4,446.5 476.1,448.3 476.8,449.5 477.5,450.7 478.2,454.6 478.9,456.9 479.6,459.0 480.3,461.4 481.0,463.4 481.7,464.2 482.4,464.3 483.1,465.1 483.8,466.1 484.5,467.0 485.2,468.1 485.9,468.9 486.6,469.3 487.3,469.5 488.0,469.8 488.7,470.1" fill="none" stroke="#1616cc" stroke-width="1.4" stroke-linejoin="round"/>
<polyline points="418.7,470.2 419.4,470.1 420.1,470.0 420.8,470.0 421.5,469.7 422.2,469.5 422.9,469.4 423.6,469.5 424.3,469.3 425.0,469.2 425.7,469.0 426.4,469.0 427.1,468.5 427.8,468.4 428.5,468.0 429.2,468.2 429.9,468.1 430.6,468.0 431.3,467.6 432.0,467.5 432.7,467.4 433.4,467.2 434.1,466.7 434.8,466.5 435.5,466.3 436.2,465.9 436.9,465.7 437.6,465.5 438.3,465.0 439.0,464.7 439.7,464.0 440.4,463.8 441.1,462.5 441.8,461.7 442.5,460.5 443.2,459.1 443.9,456.7 444.6,453.8 445.3,453.7 446.0,452.6 446.7,451.9 447.4,449.0 448.1,448.9 448.8,447.2 449.5,444.0 450.2,441.0 450.9,439.3 451.6,439.0 452.3,437.8 453.0,434.8 453.7,430.5 454.4,429.0 455.1,427.5 455.8,427.6 456.5,425.4 457.2,423.3 457.9,420.8 458.6,419.9 459.3,419.7 460.0,417.9 460.7,415.2 461.4,412.8 462.1,413.5 462.8,413.4 463.5,412.9 464.2,412.4 464.9,412.8 465.6,413.0 466.3,411.7 467.0,411.6 467.7,410.7 468.4,411.0 469.1,411.1 469.8,412.5 470.5,413.8 471.2,413.3 471.9,413.7 472.6,416.1 473.3,419.3 474.0,420.6 474.7,421.1 475.4,421.5 476.1,424.3 476.8,425.2 477.5,429.0 478.2,430.8 478.9,435.4 479.6,436.2 480.3,438.6 481.0,441.6 481.7,444.4 482.4,448.2 483.1,449.6 483.8,452.1 484.5,454.8 485.2,457.1 485.9,458.4 486.6,459.0 487.3,460.4 488.0,462.7 488.7,463.4 489.4,464.1 490.1,464.8 490.8,466.4 491.5,467.5 492.2,468.1 492.9,468.6 493.6,468.9 494.3,469.3 495.0,469.6 495.7,470.0 496.4,470.2" fill="none" stroke="#1616cc" stroke-width="1.4" stroke-linejoin="round"/>
</g>
<line x1="379.70" y1="471.60" x2="379.70" y2="473.80" stroke="#555" stroke-width="0.9"/>
<text x="379.7" y="482.6" font-size="11" text-anchor="middle" fill="#333">2</text>
<line x1="416.10" y1="471.60" x2="416.10" y2="473.80" stroke="#555" stroke-width="0.9"/>
<text x="416.1" y="482.6" font-size="11" text-anchor="middle" fill="#333">3</text>
<line x1="452.50" y1="471.60" x2="452.50" y2="473.80" stroke="#555" stroke-width="0.9"/>
<text x="452.5" y="482.6" font-size="11" text-anchor="middle" fill="#333">4</text>
<line x1="488.90" y1="471.60" x2="488.90" y2="473.80" stroke="#555" stroke-width="0.9"/>
<text x="488.9" y="482.6" font-size="11" text-anchor="middle" fill="#333">5</text>
<text x="494.6" y="367.8" font-size="10" font-weight="bold" text-anchor="middle" fill="#000" transform="rotate(90 494.6 367.8)" textLength="43.6" lengthAdjust="spacingAndGlyphs">CD90 low</text>
<text x="494.6" y="440" font-size="10" font-weight="bold" text-anchor="middle" fill="#000" transform="rotate(90 494.6 440)" textLength="49" lengthAdjust="spacingAndGlyphs">CD90 high</text>
<text x="427.6" y="494.4" font-size="9" font-weight="bold" text-anchor="middle" fill="#000" textLength="99.5" lengthAdjust="spacingAndGlyphs">pSRC Y416 Expression</text>
<text x="373.6" y="502.3" font-size="8" fill="#222" textLength="109" lengthAdjust="spacingAndGlyphs">log<tspan font-size="5.6" dy="1.8">10</tspan><tspan dy="-1.8">(fluorescence intensity)</tspan></text>
<text x="298.3" y="533.2" font-size="14" font-weight="bold" text-anchor="start" fill="#000">F</text>
<rect x="386.50" y="528.50" width="84.60" height="85.90" fill="none" stroke="#000" stroke-width="1.5"/>
<line x1="382.20" y1="614.40" x2="386.50" y2="614.40" stroke="#000" stroke-width="1.4"/>
<text x="381.8" y="618.4" font-size="10.8" text-anchor="end" fill="#222">0</text>
<line x1="382.20" y1="592.92" x2="386.50" y2="592.92" stroke="#000" stroke-width="1.4"/>
<text x="381.8" y="596.925" font-size="10.8" text-anchor="end" fill="#222">200</text>
<line x1="382.20" y1="571.45" x2="386.50" y2="571.45" stroke="#000" stroke-width="1.4"/>
<text x="381.8" y="575.4499999999999" font-size="10.8" text-anchor="end" fill="#222">400</text>
<line x1="382.20" y1="549.97" x2="386.50" y2="549.97" stroke="#000" stroke-width="1.4"/>
<text x="381.8" y="553.9749999999999" font-size="10.8" text-anchor="end" fill="#222">600</text>
<line x1="382.20" y1="528.50" x2="386.50" y2="528.50" stroke="#000" stroke-width="1.4"/>
<text x="381.8" y="532.5" font-size="10.8" text-anchor="end" fill="#222">800</text>
<line x1="386.50" y1="614.40" x2="386.50" y2="617.60" stroke="#000" stroke-width="1.4"/>
<text x="386.9" y="627.4" font-size="10.6" text-anchor="middle" fill="#222">0</text>
<line x1="407.65" y1="614.40" x2="407.65" y2="617.60" stroke="#000" stroke-width="1.4"/>
<text x="408.04999999999995" y="627.4" font-size="10.6" text-anchor="middle" fill="#222">25</text>
<line x1="428.80" y1="614.40" x2="428.80" y2="617.60" stroke="#000" stroke-width="1.4"/>
<text x="429.2" y="627.4" font-size="10.6" text-anchor="middle" fill="#222">50</text>
<line x1="449.95" y1="614.40" x2="449.95" y2="617.60" stroke="#000" stroke-width="1.4"/>
<text x="450.34999999999997" y="627.4" font-size="10.6" text-anchor="middle" fill="#222">75</text>
<line x1="471.10" y1="614.40" x2="471.10" y2="617.60" stroke="#000" stroke-width="1.4"/>
<text x="471.5" y="627.4" font-size="10.6" text-anchor="middle" fill="#222">100</text>
<line x1="388.50" y1="605.00" x2="466.30" y2="534.90" stroke="#000" stroke-width="1.6"/>
<circle cx="467.2" cy="546.5" r="1.95" fill="#000"/>
<circle cx="417.5" cy="552.7" r="1.95" fill="#000"/>
<circle cx="400.1" cy="560.5" r="1.95" fill="#000"/>
<circle cx="411.3" cy="571.3" r="1.95" fill="#000"/>
<circle cx="406.1" cy="576.8" r="1.95" fill="#000"/>
<circle cx="409.6" cy="580.8" r="1.95" fill="#000"/>
<circle cx="415.3" cy="607.1" r="1.95" fill="#000"/>
<circle cx="389.3" cy="609.7" r="1.95" fill="#000"/>
<circle cx="392.8" cy="611.9" r="1.95" fill="#000"/>
<circle cx="395" cy="609.7" r="1.95" fill="#000"/>
<circle cx="388.5" cy="611.2" r="1.95" fill="#000"/>
<text x="393.6" y="542.8" font-size="10.4" fill="#222" textLength="50" lengthAdjust="spacingAndGlyphs"><tspan font-style="italic">R</tspan><tspan font-size="7.5" dy="-3.6">2</tspan><tspan dy="3.6"> = 0.563</tspan></text>
<text x="353" y="571.3" font-size="9.2" font-weight="bold" text-anchor="middle" fill="#000" transform="rotate(-90 353 571.3)" textLength="74.6" lengthAdjust="spacingAndGlyphs">CD90 Expression</text>
<text x="427.5" y="639.4" font-size="9.4" font-weight="bold" text-anchor="middle" fill="#000" textLength="99.7" lengthAdjust="spacingAndGlyphs">pSRC Y416 Expression</text>
</svg></body></html>
